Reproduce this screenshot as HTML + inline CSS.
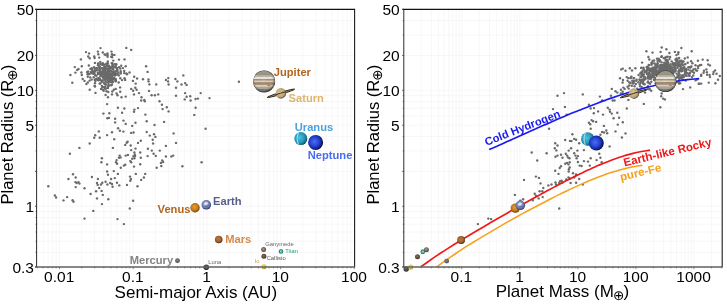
<!DOCTYPE html>
<html><head><meta charset="utf-8"><title>Planet radius plots</title><style>html,body{margin:0;padding:0;background:#fff}svg{display:block}</style></head><body>
<svg width="727" height="306" viewBox="0 0 727 306" font-family="'Liberation Sans', Arial, sans-serif">
<rect width="727" height="306" fill="#fff"/>
<path d="M43.15 9.3V266.9M48.08 9.3V266.9M52.36 9.3V266.9M56.13 9.3V266.9M59.50 9.3V266.9M81.69 9.3V266.9M94.66 9.3V266.9M103.87 9.3V266.9M111.01 9.3V266.9M116.85 9.3V266.9M121.78 9.3V266.9M126.06 9.3V266.9M129.83 9.3V266.9M133.20 9.3V266.9M155.39 9.3V266.9M168.36 9.3V266.9M177.57 9.3V266.9M184.71 9.3V266.9M190.55 9.3V266.9M195.48 9.3V266.9M199.76 9.3V266.9M203.53 9.3V266.9M206.90 9.3V266.9M229.09 9.3V266.9M242.06 9.3V266.9M251.27 9.3V266.9M258.41 9.3V266.9M264.25 9.3V266.9M269.18 9.3V266.9M273.46 9.3V266.9M277.23 9.3V266.9M280.60 9.3V266.9M302.79 9.3V266.9M315.76 9.3V266.9M324.97 9.3V266.9M332.11 9.3V266.9M337.95 9.3V266.9M342.88 9.3V266.9M347.16 9.3V266.9M350.93 9.3V266.9M36.6 252.41H354.6M36.6 241.18H354.6M36.6 232.00H354.6M36.6 224.24H354.6M36.6 217.51H354.6M36.6 211.58H354.6M36.6 206.28H354.6M36.6 171.38H354.6M36.6 150.96H354.6M36.6 136.48H354.6M36.6 125.24H354.6M36.6 116.06H354.6M36.6 108.30H354.6M36.6 101.57H354.6M36.6 95.64H354.6M36.6 90.34H354.6M36.6 55.44H354.6M36.6 35.02H354.6M36.6 20.54H354.6" stroke="#f5f5f5" stroke-width="0.8" fill="none"/>
<path d="M421.17 9.3V266.9M431.40 9.3V266.9M438.65 9.3V266.9M444.28 9.3V266.9M448.87 9.3V266.9M452.76 9.3V266.9M456.12 9.3V266.9M459.09 9.3V266.9M461.75 9.3V266.9M479.22 9.3V266.9M489.45 9.3V266.9M496.70 9.3V266.9M502.33 9.3V266.9M506.92 9.3V266.9M510.81 9.3V266.9M514.17 9.3V266.9M517.14 9.3V266.9M519.80 9.3V266.9M537.27 9.3V266.9M547.50 9.3V266.9M554.75 9.3V266.9M560.38 9.3V266.9M564.97 9.3V266.9M568.86 9.3V266.9M572.22 9.3V266.9M575.19 9.3V266.9M577.85 9.3V266.9M595.32 9.3V266.9M605.55 9.3V266.9M612.80 9.3V266.9M618.43 9.3V266.9M623.02 9.3V266.9M626.91 9.3V266.9M630.27 9.3V266.9M633.24 9.3V266.9M635.90 9.3V266.9M653.37 9.3V266.9M663.60 9.3V266.9M670.85 9.3V266.9M676.48 9.3V266.9M681.07 9.3V266.9M684.96 9.3V266.9M688.32 9.3V266.9M691.29 9.3V266.9M693.95 9.3V266.9M711.42 9.3V266.9M403.8 252.41H722.2M403.8 241.18H722.2M403.8 232.00H722.2M403.8 224.24H722.2M403.8 217.51H722.2M403.8 211.58H722.2M403.8 206.28H722.2M403.8 171.38H722.2M403.8 150.96H722.2M403.8 136.48H722.2M403.8 125.24H722.2M403.8 116.06H722.2M403.8 108.30H722.2M403.8 101.57H722.2M403.8 95.64H722.2M403.8 90.34H722.2M403.8 55.44H722.2M403.8 35.02H722.2M403.8 20.54H722.2" stroke="#f5f5f5" stroke-width="0.8" fill="none"/>
<g fill="#6a6a6a"><circle cx="100.5" cy="48.1" r="1.2"/><circle cx="126.3" cy="47.9" r="1.2"/><circle cx="131.2" cy="49.9" r="1.2"/><circle cx="86.0" cy="52.1" r="1.2"/><circle cx="89.1" cy="53.4" r="1.2"/><circle cx="97.9" cy="51.6" r="1.2"/><circle cx="98.3" cy="54.3" r="1.2"/><circle cx="102.8" cy="52.5" r="1.2"/><circle cx="107.4" cy="53.4" r="1.2"/><circle cx="111.5" cy="51.6" r="1.2"/><circle cx="112.0" cy="54.3" r="1.2"/><circle cx="114.4" cy="54.9" r="1.2"/><circle cx="88.2" cy="56.5" r="1.2"/><circle cx="89.7" cy="58.3" r="1.2"/><circle cx="94.2" cy="56.5" r="1.2"/><circle cx="94.6" cy="58.0" r="1.2"/><circle cx="99.2" cy="57.6" r="1.2"/><circle cx="80.9" cy="59.4" r="1.2"/><circle cx="124.5" cy="59.4" r="1.2"/><circle cx="74.8" cy="67.1" r="1.2"/><circle cx="78.5" cy="69.0" r="1.2"/><circle cx="77.2" cy="69.9" r="1.2"/><circle cx="75.4" cy="72.6" r="1.2"/><circle cx="70.4" cy="75.0" r="1.2"/><circle cx="81.8" cy="66.2" r="1.2"/><circle cx="81.8" cy="75.0" r="1.2"/><circle cx="72.3" cy="82.7" r="1.2"/><circle cx="82.7" cy="79.0" r="1.2"/><circle cx="84.5" cy="80.9" r="1.2"/><circle cx="86.4" cy="84.0" r="1.2"/><circle cx="89.7" cy="89.7" r="1.2"/><circle cx="125.7" cy="66.2" r="1.2"/><circle cx="123.0" cy="68.1" r="1.2"/><circle cx="121.2" cy="65.7" r="1.2"/><circle cx="95.5" cy="92.9" r="1.2"/><circle cx="101.0" cy="88.9" r="1.2"/><circle cx="102.8" cy="89.8" r="1.2"/><circle cx="106.5" cy="91.3" r="1.2"/><circle cx="108.3" cy="92.0" r="1.2"/><circle cx="105.6" cy="95.0" r="1.2"/><circle cx="108.0" cy="97.2" r="1.2"/><circle cx="112.0" cy="94.4" r="1.2"/><circle cx="113.8" cy="89.8" r="1.2"/><circle cx="115.7" cy="88.9" r="1.2"/><circle cx="116.6" cy="93.5" r="1.2"/><circle cx="117.5" cy="95.3" r="1.2"/><circle cx="120.2" cy="91.7" r="1.2"/><circle cx="121.5" cy="97.2" r="1.2"/><circle cx="125.7" cy="96.6" r="1.2"/><circle cx="133.1" cy="90.7" r="1.2"/><circle cx="134.0" cy="94.4" r="1.2"/><circle cx="131.2" cy="88.9" r="1.2"/><circle cx="107.1" cy="104.1" r="1.2"/><circle cx="117.9" cy="107.8" r="1.2"/><circle cx="124.3" cy="108.5" r="1.2"/><circle cx="122.1" cy="112.7" r="1.2"/><circle cx="134.4" cy="109.6" r="1.2"/><circle cx="134.0" cy="111.8" r="1.2"/><circle cx="103.4" cy="113.6" r="1.2"/><circle cx="109.3" cy="113.3" r="1.2"/><circle cx="107.4" cy="118.2" r="1.2"/><circle cx="108.9" cy="117.9" r="1.2"/><circle cx="115.1" cy="118.8" r="1.2"/><circle cx="115.1" cy="122.4" r="1.2"/><circle cx="123.5" cy="120.6" r="1.2"/><circle cx="125.7" cy="123.9" r="1.2"/><circle cx="135.5" cy="122.8" r="1.2"/><circle cx="132.2" cy="125.9" r="1.2"/><circle cx="118.1" cy="128.3" r="1.2"/><circle cx="119.9" cy="130.7" r="1.2"/><circle cx="123.4" cy="131.6" r="1.2"/><circle cx="98.8" cy="131.4" r="1.2"/><circle cx="112.0" cy="132.3" r="1.2"/><circle cx="131.2" cy="132.9" r="1.2"/><circle cx="133.6" cy="132.5" r="1.2"/><circle cx="95.2" cy="135.3" r="1.2"/><circle cx="94.2" cy="137.8" r="1.2"/><circle cx="99.7" cy="137.8" r="1.2"/><circle cx="107.1" cy="135.1" r="1.2"/><circle cx="114.2" cy="139.3" r="1.2"/><circle cx="127.6" cy="141.7" r="1.2"/><circle cx="89.7" cy="143.5" r="1.2"/><circle cx="79.4" cy="147.9" r="1.2"/><circle cx="69.9" cy="153.7" r="1.2"/><circle cx="112.9" cy="147.9" r="1.2"/><circle cx="126.7" cy="142.7" r="1.2"/><circle cx="125.2" cy="144.9" r="1.2"/><circle cx="130.7" cy="145.5" r="1.2"/><circle cx="131.2" cy="150.1" r="1.2"/><circle cx="135.5" cy="148.6" r="1.2"/><circle cx="134.4" cy="152.5" r="1.2"/><circle cx="101.9" cy="158.3" r="1.2"/><circle cx="101.4" cy="162.3" r="1.2"/><circle cx="107.1" cy="164.4" r="1.2"/><circle cx="119.7" cy="155.6" r="1.2"/><circle cx="120.6" cy="157.4" r="1.2"/><circle cx="119.0" cy="157.8" r="1.2"/><circle cx="116.6" cy="160.1" r="1.2"/><circle cx="116.0" cy="162.3" r="1.2"/><circle cx="117.1" cy="163.8" r="1.2"/><circle cx="125.7" cy="155.6" r="1.2"/><circle cx="127.9" cy="155.0" r="1.2"/><circle cx="125.2" cy="164.7" r="1.2"/><circle cx="123.9" cy="165.6" r="1.2"/><circle cx="120.8" cy="167.8" r="1.2"/><circle cx="130.3" cy="161.1" r="1.2"/><circle cx="131.2" cy="162.3" r="1.2"/><circle cx="132.2" cy="158.7" r="1.2"/><circle cx="134.4" cy="158.3" r="1.2"/><circle cx="133.4" cy="156.1" r="1.2"/><circle cx="134.9" cy="154.7" r="1.2"/><circle cx="134.0" cy="166.6" r="1.2"/><circle cx="107.1" cy="171.5" r="1.2"/><circle cx="108.0" cy="174.8" r="1.2"/><circle cx="113.8" cy="171.1" r="1.2"/><circle cx="117.9" cy="173.9" r="1.2"/><circle cx="135.8" cy="173.9" r="1.2"/><circle cx="73.0" cy="174.2" r="1.2"/><circle cx="75.7" cy="177.5" r="1.2"/><circle cx="68.4" cy="179.0" r="1.2"/><circle cx="91.9" cy="177.0" r="1.2"/><circle cx="97.9" cy="179.0" r="1.2"/><circle cx="105.6" cy="181.8" r="1.2"/><circle cx="111.1" cy="179.0" r="1.2"/><circle cx="114.8" cy="178.1" r="1.2"/><circle cx="130.0" cy="176.6" r="1.2"/><circle cx="130.9" cy="179.0" r="1.2"/><circle cx="130.3" cy="180.7" r="1.2"/><circle cx="75.4" cy="182.1" r="1.2"/><circle cx="76.7" cy="183.0" r="1.2"/><circle cx="78.5" cy="182.1" r="1.2"/><circle cx="79.4" cy="183.6" r="1.2"/><circle cx="75.7" cy="187.1" r="1.2"/><circle cx="48.3" cy="186.2" r="1.2"/><circle cx="84.5" cy="188.2" r="1.2"/><circle cx="97.0" cy="183.0" r="1.2"/><circle cx="97.7" cy="184.9" r="1.2"/><circle cx="101.0" cy="184.5" r="1.2"/><circle cx="99.2" cy="188.0" r="1.2"/><circle cx="102.3" cy="182.7" r="1.2"/><circle cx="107.4" cy="184.5" r="1.2"/><circle cx="110.2" cy="183.0" r="1.2"/><circle cx="112.0" cy="184.0" r="1.2"/><circle cx="112.6" cy="186.7" r="1.2"/><circle cx="117.0" cy="182.7" r="1.2"/><circle cx="119.3" cy="185.4" r="1.2"/><circle cx="127.0" cy="184.9" r="1.2"/><circle cx="96.1" cy="191.3" r="1.2"/><circle cx="101.6" cy="190.9" r="1.2"/><circle cx="90.6" cy="194.0" r="1.2"/><circle cx="102.8" cy="194.9" r="1.2"/><circle cx="54.9" cy="195.5" r="1.2"/><circle cx="56.1" cy="197.5" r="1.2"/><circle cx="63.5" cy="200.4" r="1.2"/><circle cx="67.1" cy="197.1" r="1.2"/><circle cx="72.6" cy="200.2" r="1.2"/><circle cx="73.5" cy="201.7" r="1.2"/><circle cx="97.0" cy="198.4" r="1.2"/><circle cx="101.9" cy="204.1" r="1.2"/><circle cx="108.3" cy="199.3" r="1.2"/><circle cx="93.3" cy="210.9" r="1.2"/><circle cx="84.5" cy="218.6" r="1.2"/><circle cx="117.5" cy="219.1" r="1.2"/><circle cx="123.9" cy="224.1" r="1.2"/><circle cx="129.8" cy="208.5" r="1.2"/><circle cx="133.1" cy="200.8" r="1.2"/><circle cx="146.1" cy="66.2" r="1.2"/><circle cx="147.6" cy="71.9" r="1.2"/><circle cx="134.2" cy="76.7" r="1.2"/><circle cx="137.1" cy="78.5" r="1.2"/><circle cx="132.9" cy="80.9" r="1.2"/><circle cx="135.7" cy="83.6" r="1.2"/><circle cx="143.0" cy="79.2" r="1.2"/><circle cx="148.5" cy="79.4" r="1.2"/><circle cx="148.5" cy="81.4" r="1.2"/><circle cx="149.4" cy="84.4" r="1.2"/><circle cx="156.2" cy="84.4" r="1.2"/><circle cx="165.9" cy="80.0" r="1.2"/><circle cx="168.3" cy="78.1" r="1.2"/><circle cx="168.1" cy="81.4" r="1.2"/><circle cx="168.6" cy="84.5" r="1.2"/><circle cx="175.4" cy="79.0" r="1.2"/><circle cx="177.4" cy="81.4" r="1.2"/><circle cx="176.0" cy="87.8" r="1.2"/><circle cx="181.5" cy="84.5" r="1.2"/><circle cx="183.3" cy="75.4" r="1.2"/><circle cx="185.1" cy="83.1" r="1.2"/><circle cx="186.6" cy="84.9" r="1.2"/><circle cx="135.3" cy="87.8" r="1.2"/><circle cx="136.6" cy="89.7" r="1.2"/><circle cx="149.0" cy="90.9" r="1.2"/><circle cx="139.0" cy="93.1" r="1.2"/><circle cx="141.5" cy="97.2" r="1.2"/><circle cx="141.2" cy="100.5" r="1.2"/><circle cx="144.3" cy="99.9" r="1.2"/><circle cx="144.8" cy="101.2" r="1.2"/><circle cx="151.6" cy="95.3" r="1.2"/><circle cx="154.9" cy="95.3" r="1.2"/><circle cx="158.2" cy="94.4" r="1.2"/><circle cx="159.5" cy="101.2" r="1.2"/><circle cx="161.9" cy="104.8" r="1.2"/><circle cx="162.6" cy="109.1" r="1.2"/><circle cx="166.8" cy="107.2" r="1.2"/><circle cx="168.6" cy="111.4" r="1.2"/><circle cx="176.0" cy="95.7" r="1.2"/><circle cx="185.1" cy="93.1" r="1.2"/><circle cx="186.6" cy="96.8" r="1.2"/><circle cx="184.7" cy="99.4" r="1.2"/><circle cx="190.2" cy="96.2" r="1.2"/><circle cx="190.6" cy="100.5" r="1.2"/><circle cx="195.6" cy="99.0" r="1.2"/><circle cx="197.9" cy="98.6" r="1.2"/><circle cx="200.7" cy="93.1" r="1.2"/><circle cx="209.5" cy="98.1" r="1.2"/><circle cx="195.6" cy="107.8" r="1.2"/><circle cx="194.3" cy="114.9" r="1.2"/><circle cx="138.0" cy="108.1" r="1.2"/><circle cx="145.4" cy="114.6" r="1.2"/><circle cx="146.7" cy="121.3" r="1.2"/><circle cx="154.5" cy="125.0" r="1.2"/><circle cx="164.1" cy="121.9" r="1.2"/><circle cx="205.6" cy="128.8" r="1.2"/><circle cx="146.7" cy="132.0" r="1.2"/><circle cx="149.8" cy="135.6" r="1.2"/><circle cx="154.0" cy="134.2" r="1.2"/><circle cx="155.4" cy="136.9" r="1.2"/><circle cx="173.6" cy="133.4" r="1.2"/><circle cx="152.7" cy="139.8" r="1.2"/><circle cx="140.8" cy="140.7" r="1.2"/><circle cx="138.0" cy="142.9" r="1.2"/><circle cx="153.1" cy="143.5" r="1.2"/><circle cx="176.0" cy="142.9" r="1.2"/><circle cx="140.2" cy="152.5" r="1.2"/><circle cx="135.1" cy="156.1" r="1.2"/><circle cx="140.8" cy="157.8" r="1.2"/><circle cx="140.2" cy="164.2" r="1.2"/><circle cx="147.9" cy="148.8" r="1.2"/><circle cx="151.8" cy="150.6" r="1.2"/><circle cx="147.6" cy="156.1" r="1.2"/><circle cx="153.6" cy="153.7" r="1.2"/><circle cx="155.8" cy="155.9" r="1.2"/><circle cx="159.8" cy="150.6" r="1.2"/><circle cx="165.9" cy="145.9" r="1.2"/><circle cx="165.9" cy="156.5" r="1.2"/><circle cx="171.4" cy="156.5" r="1.2"/><circle cx="173.2" cy="155.6" r="1.2"/><circle cx="162.2" cy="160.5" r="1.2"/><circle cx="160.9" cy="162.9" r="1.2"/><circle cx="163.1" cy="162.0" r="1.2"/><circle cx="161.3" cy="166.0" r="1.2"/><circle cx="156.7" cy="167.8" r="1.2"/><circle cx="182.4" cy="166.2" r="1.2"/><circle cx="201.6" cy="162.3" r="1.2"/><circle cx="145.2" cy="173.9" r="1.2"/><circle cx="143.9" cy="177.5" r="1.2"/><circle cx="141.2" cy="179.9" r="1.2"/><circle cx="137.5" cy="186.3" r="1.2"/><circle cx="238.9" cy="81.7" r="1.2"/><circle cx="102.5" cy="76.4" r="1.2"/><circle cx="113.2" cy="69.5" r="1.2"/><circle cx="102.0" cy="73.0" r="1.2"/><circle cx="110.7" cy="82.1" r="1.2"/><circle cx="102.6" cy="63.4" r="1.2"/><circle cx="111.8" cy="77.2" r="1.2"/><circle cx="115.8" cy="81.2" r="1.2"/><circle cx="107.9" cy="71.4" r="1.2"/><circle cx="120.7" cy="71.2" r="1.2"/><circle cx="104.6" cy="64.6" r="1.2"/><circle cx="108.9" cy="74.6" r="1.2"/><circle cx="106.7" cy="73.0" r="1.2"/><circle cx="109.7" cy="78.9" r="1.2"/><circle cx="113.7" cy="75.1" r="1.2"/><circle cx="99.8" cy="79.0" r="1.2"/><circle cx="101.6" cy="72.2" r="1.2"/><circle cx="101.3" cy="73.5" r="1.2"/><circle cx="104.7" cy="75.2" r="1.2"/><circle cx="124.2" cy="73.1" r="1.2"/><circle cx="112.4" cy="63.2" r="1.2"/><circle cx="107.0" cy="78.7" r="1.2"/><circle cx="108.0" cy="76.4" r="1.2"/><circle cx="108.9" cy="65.7" r="1.2"/><circle cx="111.1" cy="67.2" r="1.2"/><circle cx="117.4" cy="69.6" r="1.2"/><circle cx="111.7" cy="73.5" r="1.2"/><circle cx="113.0" cy="68.8" r="1.2"/><circle cx="113.2" cy="72.5" r="1.2"/><circle cx="114.5" cy="78.4" r="1.2"/><circle cx="109.1" cy="67.4" r="1.2"/><circle cx="112.1" cy="77.2" r="1.2"/><circle cx="116.3" cy="70.6" r="1.2"/><circle cx="111.1" cy="77.5" r="1.2"/><circle cx="109.8" cy="75.1" r="1.2"/><circle cx="109.3" cy="68.8" r="1.2"/><circle cx="103.5" cy="70.4" r="1.2"/><circle cx="111.2" cy="85.3" r="1.2"/><circle cx="113.1" cy="81.7" r="1.2"/><circle cx="112.1" cy="78.9" r="1.2"/><circle cx="109.3" cy="79.5" r="1.2"/><circle cx="116.9" cy="70.9" r="1.2"/><circle cx="105.1" cy="88.8" r="1.2"/><circle cx="109.6" cy="81.1" r="1.2"/><circle cx="112.6" cy="64.6" r="1.2"/><circle cx="120.1" cy="87.4" r="1.2"/><circle cx="109.2" cy="79.4" r="1.2"/><circle cx="109.0" cy="66.6" r="1.2"/><circle cx="107.9" cy="76.4" r="1.2"/><circle cx="113.8" cy="79.0" r="1.2"/><circle cx="108.7" cy="84.1" r="1.2"/><circle cx="104.7" cy="79.7" r="1.2"/><circle cx="113.7" cy="71.2" r="1.2"/><circle cx="99.8" cy="66.4" r="1.2"/><circle cx="109.5" cy="77.6" r="1.2"/><circle cx="115.8" cy="65.7" r="1.2"/><circle cx="108.4" cy="78.6" r="1.2"/><circle cx="107.6" cy="55.0" r="1.2"/><circle cx="112.3" cy="91.5" r="1.2"/><circle cx="113.2" cy="66.3" r="1.2"/><circle cx="106.4" cy="75.2" r="1.2"/><circle cx="120.3" cy="78.3" r="1.2"/><circle cx="108.9" cy="85.6" r="1.2"/><circle cx="108.0" cy="88.0" r="1.2"/><circle cx="105.1" cy="69.8" r="1.2"/><circle cx="111.9" cy="84.6" r="1.2"/><circle cx="111.5" cy="75.9" r="1.2"/><circle cx="99.7" cy="67.9" r="1.2"/><circle cx="105.5" cy="69.3" r="1.2"/><circle cx="111.2" cy="70.9" r="1.2"/><circle cx="112.2" cy="74.1" r="1.2"/><circle cx="106.8" cy="74.4" r="1.2"/><circle cx="110.5" cy="80.2" r="1.2"/><circle cx="106.1" cy="71.7" r="1.2"/><circle cx="101.9" cy="86.0" r="1.2"/><circle cx="115.4" cy="72.1" r="1.2"/><circle cx="106.1" cy="63.9" r="1.2"/><circle cx="109.2" cy="75.1" r="1.2"/><circle cx="118.9" cy="75.4" r="1.2"/><circle cx="104.7" cy="54.4" r="1.2"/><circle cx="115.2" cy="75.0" r="1.2"/><circle cx="100.7" cy="74.9" r="1.2"/><circle cx="113.8" cy="78.0" r="1.2"/><circle cx="107.6" cy="56.8" r="1.2"/><circle cx="107.8" cy="61.4" r="1.2"/><circle cx="111.3" cy="56.8" r="1.2"/><circle cx="104.0" cy="83.0" r="1.2"/><circle cx="116.3" cy="64.3" r="1.2"/><circle cx="101.0" cy="80.4" r="1.2"/><circle cx="112.5" cy="65.8" r="1.2"/><circle cx="105.1" cy="68.1" r="1.2"/><circle cx="102.7" cy="68.2" r="1.2"/><circle cx="114.4" cy="78.9" r="1.2"/><circle cx="118.3" cy="72.8" r="1.2"/><circle cx="107.8" cy="65.8" r="1.2"/><circle cx="107.8" cy="63.3" r="1.2"/><circle cx="99.9" cy="78.9" r="1.2"/><circle cx="115.3" cy="80.0" r="1.2"/><circle cx="114.8" cy="75.5" r="1.2"/><circle cx="105.0" cy="74.2" r="1.2"/><circle cx="106.6" cy="64.8" r="1.2"/><circle cx="100.3" cy="61.9" r="1.2"/><circle cx="108.4" cy="74.7" r="1.2"/><circle cx="106.1" cy="84.6" r="1.2"/><circle cx="109.3" cy="78.0" r="1.2"/><circle cx="114.2" cy="67.1" r="1.2"/><circle cx="98.9" cy="79.4" r="1.2"/><circle cx="105.1" cy="83.7" r="1.2"/><circle cx="110.0" cy="81.4" r="1.2"/><circle cx="112.1" cy="57.3" r="1.2"/><circle cx="111.9" cy="68.2" r="1.2"/><circle cx="104.8" cy="70.1" r="1.2"/><circle cx="112.1" cy="80.4" r="1.2"/><circle cx="113.3" cy="60.6" r="1.2"/><circle cx="105.6" cy="55.0" r="1.2"/><circle cx="107.9" cy="78.2" r="1.2"/><circle cx="104.7" cy="75.4" r="1.2"/><circle cx="109.5" cy="81.4" r="1.2"/><circle cx="104.5" cy="67.0" r="1.2"/><circle cx="104.7" cy="87.2" r="1.2"/><circle cx="113.6" cy="72.5" r="1.2"/><circle cx="109.5" cy="74.4" r="1.2"/><circle cx="109.4" cy="71.9" r="1.2"/><circle cx="106.8" cy="63.7" r="1.2"/><circle cx="105.3" cy="86.4" r="1.2"/><circle cx="111.0" cy="74.0" r="1.2"/><circle cx="107.4" cy="74.0" r="1.2"/><circle cx="110.1" cy="68.5" r="1.2"/><circle cx="109.3" cy="75.4" r="1.2"/><circle cx="104.8" cy="67.3" r="1.2"/><circle cx="103.6" cy="65.2" r="1.2"/><circle cx="112.7" cy="55.1" r="1.2"/><circle cx="107.1" cy="68.7" r="1.2"/><circle cx="105.4" cy="74.3" r="1.2"/><circle cx="113.8" cy="74.1" r="1.2"/><circle cx="107.7" cy="68.7" r="1.2"/><circle cx="107.8" cy="80.6" r="1.2"/><circle cx="106.5" cy="64.6" r="1.2"/><circle cx="102.3" cy="64.9" r="1.2"/><circle cx="101.7" cy="82.1" r="1.2"/><circle cx="106.9" cy="73.1" r="1.2"/><circle cx="117.4" cy="70.7" r="1.2"/><circle cx="110.7" cy="79.1" r="1.2"/><circle cx="88.8" cy="65.5" r="1.2"/><circle cx="94.7" cy="79.8" r="1.2"/><circle cx="115.8" cy="67.4" r="1.2"/><circle cx="113.5" cy="72.3" r="1.2"/><circle cx="99.8" cy="71.3" r="1.2"/><circle cx="100.4" cy="64.0" r="1.2"/><circle cx="94.0" cy="67.3" r="1.2"/><circle cx="108.2" cy="86.6" r="1.2"/><circle cx="129.5" cy="72.5" r="1.2"/><circle cx="87.1" cy="72.1" r="1.2"/><circle cx="94.6" cy="86.0" r="1.2"/><circle cx="108.9" cy="70.3" r="1.2"/><circle cx="112.4" cy="77.6" r="1.2"/><circle cx="88.1" cy="71.4" r="1.2"/><circle cx="101.2" cy="74.6" r="1.2"/><circle cx="104.8" cy="72.5" r="1.2"/><circle cx="105.3" cy="71.1" r="1.2"/><circle cx="95.0" cy="83.3" r="1.2"/><circle cx="106.9" cy="77.0" r="1.2"/><circle cx="88.3" cy="73.5" r="1.2"/><circle cx="111.3" cy="67.0" r="1.2"/><circle cx="113.9" cy="72.2" r="1.2"/><circle cx="107.3" cy="73.7" r="1.2"/><circle cx="105.6" cy="81.5" r="1.2"/><circle cx="99.7" cy="83.6" r="1.2"/><circle cx="96.1" cy="69.1" r="1.2"/><circle cx="110.3" cy="68.3" r="1.2"/><circle cx="100.0" cy="79.8" r="1.2"/><circle cx="115.0" cy="64.2" r="1.2"/><circle cx="108.3" cy="85.4" r="1.2"/><circle cx="114.9" cy="73.1" r="1.2"/><circle cx="97.8" cy="72.8" r="1.2"/><circle cx="92.5" cy="73.0" r="1.2"/><circle cx="101.7" cy="73.7" r="1.2"/><circle cx="114.7" cy="73.2" r="1.2"/><circle cx="89.7" cy="80.6" r="1.2"/><circle cx="93.3" cy="71.9" r="1.2"/><circle cx="102.2" cy="72.5" r="1.2"/><circle cx="94.0" cy="73.1" r="1.2"/><circle cx="124.2" cy="71.0" r="1.2"/><circle cx="102.2" cy="81.0" r="1.2"/><circle cx="110.6" cy="78.9" r="1.2"/><circle cx="111.7" cy="63.1" r="1.2"/><circle cx="95.3" cy="75.2" r="1.2"/><circle cx="108.2" cy="82.0" r="1.2"/><circle cx="108.0" cy="73.1" r="1.2"/><circle cx="103.9" cy="73.3" r="1.2"/><circle cx="105.8" cy="78.4" r="1.2"/><circle cx="100.3" cy="69.8" r="1.2"/><circle cx="95.4" cy="80.9" r="1.2"/><circle cx="115.7" cy="80.3" r="1.2"/><circle cx="111.6" cy="79.3" r="1.2"/><circle cx="103.5" cy="78.3" r="1.2"/><circle cx="93.5" cy="73.3" r="1.2"/><circle cx="96.5" cy="78.7" r="1.2"/><circle cx="98.0" cy="73.9" r="1.2"/><circle cx="107.3" cy="82.4" r="1.2"/><circle cx="96.0" cy="69.1" r="1.2"/><circle cx="111.3" cy="68.1" r="1.2"/><circle cx="107.8" cy="71.2" r="1.2"/><circle cx="102.5" cy="63.9" r="1.2"/><circle cx="110.3" cy="71.6" r="1.2"/><circle cx="95.0" cy="86.5" r="1.2"/><circle cx="107.4" cy="72.5" r="1.2"/><circle cx="104.5" cy="83.8" r="1.2"/><circle cx="103.2" cy="77.1" r="1.2"/><circle cx="108.4" cy="69.2" r="1.2"/><circle cx="104.7" cy="71.6" r="1.2"/><circle cx="91.7" cy="79.6" r="1.2"/><circle cx="109.8" cy="74.9" r="1.2"/><circle cx="94.9" cy="62.9" r="1.2"/><circle cx="108.1" cy="73.9" r="1.2"/><circle cx="87.5" cy="74.2" r="1.2"/><circle cx="89.0" cy="74.3" r="1.2"/><circle cx="104.9" cy="76.6" r="1.2"/><circle cx="105.6" cy="75.5" r="1.2"/><circle cx="92.7" cy="72.3" r="1.2"/><circle cx="98.6" cy="73.1" r="1.2"/><circle cx="106.1" cy="78.1" r="1.2"/><circle cx="119.0" cy="59.6" r="1.2"/><circle cx="107.3" cy="73.3" r="1.2"/><circle cx="125.1" cy="79.9" r="1.2"/><circle cx="87.8" cy="76.8" r="1.2"/><circle cx="98.6" cy="80.3" r="1.2"/><circle cx="93.5" cy="73.9" r="1.2"/><circle cx="102.3" cy="73.9" r="1.2"/><circle cx="98.0" cy="63.8" r="1.2"/><circle cx="107.9" cy="80.3" r="1.2"/><circle cx="102.9" cy="68.6" r="1.2"/><circle cx="105.4" cy="77.8" r="1.2"/><circle cx="101.8" cy="74.4" r="1.2"/><circle cx="116.9" cy="68.0" r="1.2"/><circle cx="98.2" cy="63.4" r="1.2"/><circle cx="96.9" cy="70.2" r="1.2"/><circle cx="94.4" cy="70.5" r="1.2"/><circle cx="120.6" cy="73.4" r="1.2"/><circle cx="102.4" cy="87.2" r="1.2"/><circle cx="102.9" cy="64.4" r="1.2"/><circle cx="107.3" cy="69.1" r="1.2"/><circle cx="119.1" cy="67.3" r="1.2"/><circle cx="98.0" cy="65.2" r="1.2"/><circle cx="104.4" cy="68.6" r="1.2"/><circle cx="102.9" cy="72.3" r="1.2"/><circle cx="97.7" cy="80.0" r="1.2"/><circle cx="112.4" cy="74.9" r="1.2"/><circle cx="94.9" cy="68.3" r="1.2"/><circle cx="106.1" cy="88.4" r="1.2"/><circle cx="99.2" cy="69.9" r="1.2"/><circle cx="96.9" cy="68.1" r="1.2"/><circle cx="94.3" cy="73.3" r="1.2"/><circle cx="117.1" cy="74.5" r="1.2"/><circle cx="98.6" cy="65.1" r="1.2"/><circle cx="105.5" cy="74.3" r="1.2"/><circle cx="91.8" cy="68.2" r="1.2"/><circle cx="103.1" cy="80.4" r="1.2"/><circle cx="109.5" cy="75.7" r="1.2"/><circle cx="100.4" cy="76.4" r="1.2"/><circle cx="103.4" cy="87.1" r="1.2"/><circle cx="92.7" cy="72.4" r="1.2"/><circle cx="115.5" cy="73.0" r="1.2"/><circle cx="117.0" cy="74.2" r="1.2"/><circle cx="104.9" cy="72.4" r="1.2"/><circle cx="90.4" cy="68.9" r="1.2"/><circle cx="124.5" cy="78.2" r="1.2"/><circle cx="109.3" cy="80.0" r="1.2"/><circle cx="108.9" cy="80.4" r="1.2"/><circle cx="101.0" cy="73.2" r="1.2"/><circle cx="112.8" cy="72.5" r="1.2"/><circle cx="90.9" cy="73.2" r="1.2"/><circle cx="98.3" cy="78.1" r="1.2"/><circle cx="96.7" cy="68.3" r="1.2"/><circle cx="100.3" cy="83.5" r="1.2"/><circle cx="103.0" cy="75.4" r="1.2"/><circle cx="103.6" cy="76.2" r="1.2"/><circle cx="112.3" cy="82.6" r="1.2"/><circle cx="87.9" cy="82.4" r="1.2"/><circle cx="103.5" cy="72.6" r="1.2"/><circle cx="126.3" cy="73.5" r="1.2"/><circle cx="122.0" cy="80.1" r="1.2"/><circle cx="93.7" cy="77.3" r="1.2"/><circle cx="110.5" cy="73.8" r="1.2"/><circle cx="81.4" cy="72.5" r="1.2"/><circle cx="101.7" cy="68.1" r="1.2"/><circle cx="120.8" cy="73.1" r="1.2"/><circle cx="99.8" cy="72.8" r="1.2"/><circle cx="96.1" cy="70.0" r="1.2"/><circle cx="104.4" cy="76.3" r="1.2"/><circle cx="98.7" cy="74.0" r="1.2"/><circle cx="90.3" cy="77.5" r="1.2"/><circle cx="96.4" cy="75.7" r="1.2"/><circle cx="94.9" cy="71.5" r="1.2"/><circle cx="105.5" cy="67.5" r="1.2"/><circle cx="127.0" cy="74.3" r="1.2"/><circle cx="102.8" cy="70.2" r="1.2"/><circle cx="118.7" cy="82.5" r="1.2"/><circle cx="106.3" cy="66.6" r="1.2"/><circle cx="98.7" cy="78.1" r="1.2"/><circle cx="98.6" cy="67.6" r="1.2"/><circle cx="92.2" cy="70.0" r="1.2"/><circle cx="103.6" cy="70.7" r="1.2"/><circle cx="103.7" cy="90.7" r="1.2"/><circle cx="120.3" cy="68.5" r="1.2"/><circle cx="106.8" cy="75.0" r="1.2"/><circle cx="102.2" cy="80.6" r="1.2"/><circle cx="100.3" cy="72.6" r="1.2"/><circle cx="99.9" cy="73.9" r="1.2"/><circle cx="115.7" cy="79.0" r="1.2"/><circle cx="90.8" cy="71.9" r="1.2"/><circle cx="95.9" cy="79.2" r="1.2"/><circle cx="105.6" cy="79.7" r="1.2"/><circle cx="102.9" cy="63.4" r="1.2"/></g>
<g fill="#6a6a6a"><circle cx="531.7" cy="152.5" r="1.2"/><circle cx="546.6" cy="153.2" r="1.2"/><circle cx="537.2" cy="160.5" r="1.2"/><circle cx="555.2" cy="143.3" r="1.2"/><circle cx="557.5" cy="145.5" r="1.2"/><circle cx="554.8" cy="148.2" r="1.2"/><circle cx="556.4" cy="150.4" r="1.2"/><circle cx="557.5" cy="155.6" r="1.2"/><circle cx="555.5" cy="156.8" r="1.2"/><circle cx="561.0" cy="154.7" r="1.2"/><circle cx="562.5" cy="157.8" r="1.2"/><circle cx="565.8" cy="153.7" r="1.2"/><circle cx="567.1" cy="155.6" r="1.2"/><circle cx="568.0" cy="157.4" r="1.2"/><circle cx="569.5" cy="158.3" r="1.2"/><circle cx="565.2" cy="163.8" r="1.2"/><circle cx="567.1" cy="162.9" r="1.2"/><circle cx="568.5" cy="164.4" r="1.2"/><circle cx="561.0" cy="166.2" r="1.2"/><circle cx="559.7" cy="168.0" r="1.2"/><circle cx="555.2" cy="170.8" r="1.2"/><circle cx="558.5" cy="173.9" r="1.2"/><circle cx="568.9" cy="169.3" r="1.2"/><circle cx="524.0" cy="179.9" r="1.2"/><circle cx="535.9" cy="176.6" r="1.2"/><circle cx="539.0" cy="177.9" r="1.2"/><circle cx="540.5" cy="183.4" r="1.2"/><circle cx="543.3" cy="188.0" r="1.2"/><circle cx="548.4" cy="185.4" r="1.2"/><circle cx="551.5" cy="184.5" r="1.2"/><circle cx="555.5" cy="182.5" r="1.2"/><circle cx="556.1" cy="184.5" r="1.2"/><circle cx="559.2" cy="183.0" r="1.2"/><circle cx="560.1" cy="181.2" r="1.2"/><circle cx="561.6" cy="180.7" r="1.2"/><circle cx="562.5" cy="182.5" r="1.2"/><circle cx="566.2" cy="179.4" r="1.2"/><circle cx="568.5" cy="177.5" r="1.2"/><circle cx="569.8" cy="178.5" r="1.2"/><circle cx="539.6" cy="191.3" r="1.2"/><circle cx="542.3" cy="191.3" r="1.2"/><circle cx="534.7" cy="193.7" r="1.2"/><circle cx="514.9" cy="194.9" r="1.2"/><circle cx="565.2" cy="140.0" r="1.2"/><circle cx="523.1" cy="199.3" r="1.2"/><circle cx="520.4" cy="200.6" r="1.2"/><circle cx="535.9" cy="195.7" r="1.2"/><circle cx="538.7" cy="198.4" r="1.2"/><circle cx="542.7" cy="197.1" r="1.2"/><circle cx="532.8" cy="200.2" r="1.2"/><circle cx="559.2" cy="208.5" r="1.2"/><circle cx="488.3" cy="218.6" r="1.2"/><circle cx="491.1" cy="219.1" r="1.2"/><circle cx="477.9" cy="224.1" r="1.2"/><circle cx="609.6" cy="146.4" r="1.2"/><circle cx="570.0" cy="140.9" r="1.2"/><circle cx="579.2" cy="143.3" r="1.2"/><circle cx="571.1" cy="148.2" r="1.2"/><circle cx="568.7" cy="150.6" r="1.2"/><circle cx="577.4" cy="150.6" r="1.2"/><circle cx="583.9" cy="150.1" r="1.2"/><circle cx="574.2" cy="153.2" r="1.2"/><circle cx="575.5" cy="155.6" r="1.2"/><circle cx="577.9" cy="156.1" r="1.2"/><circle cx="576.6" cy="158.3" r="1.2"/><circle cx="590.7" cy="158.3" r="1.2"/><circle cx="599.3" cy="153.7" r="1.2"/><circle cx="600.4" cy="157.8" r="1.2"/><circle cx="596.6" cy="160.1" r="1.2"/><circle cx="583.9" cy="161.1" r="1.2"/><circle cx="588.0" cy="161.6" r="1.2"/><circle cx="601.7" cy="162.3" r="1.2"/><circle cx="577.9" cy="162.0" r="1.2"/><circle cx="569.7" cy="162.3" r="1.2"/><circle cx="579.7" cy="165.6" r="1.2"/><circle cx="581.6" cy="166.0" r="1.2"/><circle cx="589.8" cy="165.6" r="1.2"/><circle cx="569.7" cy="167.5" r="1.2"/><circle cx="568.7" cy="171.5" r="1.2"/><circle cx="573.0" cy="173.3" r="1.2"/><circle cx="576.1" cy="174.4" r="1.2"/><circle cx="574.2" cy="177.5" r="1.2"/><circle cx="579.2" cy="179.0" r="1.2"/><circle cx="570.6" cy="183.0" r="1.2"/><circle cx="576.1" cy="182.7" r="1.2"/><circle cx="582.8" cy="184.5" r="1.2"/><circle cx="582.8" cy="94.4" r="1.2"/><circle cx="599.9" cy="96.6" r="1.2"/><circle cx="610.9" cy="95.7" r="1.2"/><circle cx="615.5" cy="91.3" r="1.2"/><circle cx="617.3" cy="92.6" r="1.2"/><circle cx="611.8" cy="88.9" r="1.2"/><circle cx="620.9" cy="89.8" r="1.2"/><circle cx="624.6" cy="88.9" r="1.2"/><circle cx="620.9" cy="93.5" r="1.2"/><circle cx="614.5" cy="100.5" r="1.2"/><circle cx="612.7" cy="100.5" r="1.2"/><circle cx="602.1" cy="100.5" r="1.2"/><circle cx="588.9" cy="104.8" r="1.2"/><circle cx="590.7" cy="108.5" r="1.2"/><circle cx="594.0" cy="108.1" r="1.2"/><circle cx="593.8" cy="113.3" r="1.2"/><circle cx="598.1" cy="111.4" r="1.2"/><circle cx="603.0" cy="114.6" r="1.2"/><circle cx="607.8" cy="107.8" r="1.2"/><circle cx="609.6" cy="109.6" r="1.2"/><circle cx="610.0" cy="111.8" r="1.2"/><circle cx="611.8" cy="113.6" r="1.2"/><circle cx="617.3" cy="112.7" r="1.2"/><circle cx="626.8" cy="108.5" r="1.2"/><circle cx="643.8" cy="103.9" r="1.2"/><circle cx="660.3" cy="107.2" r="1.2"/><circle cx="661.2" cy="96.2" r="1.2"/><circle cx="663.1" cy="98.6" r="1.2"/><circle cx="664.9" cy="99.4" r="1.2"/><circle cx="651.2" cy="90.7" r="1.2"/><circle cx="645.1" cy="92.6" r="1.2"/><circle cx="613.6" cy="118.2" r="1.2"/><circle cx="619.1" cy="117.7" r="1.2"/><circle cx="591.6" cy="120.1" r="1.2"/><circle cx="593.1" cy="121.3" r="1.2"/><circle cx="588.9" cy="122.8" r="1.2"/><circle cx="590.2" cy="124.3" r="1.2"/><circle cx="596.2" cy="121.9" r="1.2"/><circle cx="622.8" cy="122.2" r="1.2"/><circle cx="617.8" cy="124.6" r="1.2"/><circle cx="603.9" cy="125.9" r="1.2"/><circle cx="590.7" cy="128.7" r="1.2"/><circle cx="606.3" cy="130.5" r="1.2"/><circle cx="602.1" cy="132.0" r="1.2"/><circle cx="604.1" cy="132.5" r="1.2"/><circle cx="607.2" cy="133.2" r="1.2"/><circle cx="615.5" cy="131.4" r="1.2"/><circle cx="625.5" cy="133.4" r="1.2"/><circle cx="621.9" cy="137.5" r="1.2"/><circle cx="600.4" cy="134.7" r="1.2"/><circle cx="572.4" cy="134.3" r="1.2"/><circle cx="574.2" cy="138.9" r="1.2"/><circle cx="571.5" cy="141.1" r="1.2"/><circle cx="576.1" cy="139.8" r="1.2"/><circle cx="557.5" cy="95.7" r="1.2"/><circle cx="564.0" cy="93.1" r="1.2"/><circle cx="553.0" cy="109.1" r="1.2"/><circle cx="564.9" cy="106.9" r="1.2"/><circle cx="566.7" cy="114.6" r="1.2"/><circle cx="549.1" cy="128.7" r="1.2"/><circle cx="661.7" cy="47.5" r="1.2"/><circle cx="681.4" cy="48.0" r="1.2"/><circle cx="691.7" cy="51.2" r="1.2"/><circle cx="646.4" cy="51.2" r="1.2"/><circle cx="674.9" cy="51.9" r="1.2"/><circle cx="678.2" cy="54.1" r="1.2"/><circle cx="669.4" cy="53.0" r="1.2"/><circle cx="660.6" cy="51.9" r="1.2"/><circle cx="702.7" cy="59.6" r="1.2"/><circle cx="708.2" cy="64.4" r="1.2"/><circle cx="697.9" cy="60.7" r="1.2"/><circle cx="716.5" cy="73.8" r="1.2"/><circle cx="719.8" cy="76.0" r="1.2"/><circle cx="709.9" cy="77.1" r="1.2"/><circle cx="708.8" cy="82.6" r="1.2"/><circle cx="715.4" cy="83.2" r="1.2"/><circle cx="701.2" cy="83.6" r="1.2"/><circle cx="690.2" cy="87.4" r="1.2"/><circle cx="683.0" cy="89.1" r="1.2"/><circle cx="621.2" cy="69.4" r="1.2"/><circle cx="620.1" cy="78.2" r="1.2"/><circle cx="623.4" cy="87.6" r="1.2"/><circle cx="626.7" cy="77.1" r="1.2"/><circle cx="630.0" cy="82.6" r="1.2"/><circle cx="633.3" cy="83.6" r="1.2"/><circle cx="661.7" cy="93.5" r="1.2"/><circle cx="622.8" cy="68.6" r="1.2"/><circle cx="625.5" cy="70.8" r="1.2"/><circle cx="628.3" cy="78.1" r="1.2"/><circle cx="629.2" cy="85.5" r="1.2"/><circle cx="715.1" cy="70.4" r="1.2"/><circle cx="652.6" cy="67.7" r="1.2"/><circle cx="669.8" cy="72.7" r="1.2"/><circle cx="666.6" cy="76.9" r="1.2"/><circle cx="681.6" cy="75.4" r="1.2"/><circle cx="642.9" cy="74.5" r="1.2"/><circle cx="685.3" cy="74.3" r="1.2"/><circle cx="648.7" cy="64.9" r="1.2"/><circle cx="640.6" cy="82.9" r="1.2"/><circle cx="646.8" cy="70.2" r="1.2"/><circle cx="676.7" cy="73.6" r="1.2"/><circle cx="645.0" cy="71.2" r="1.2"/><circle cx="673.2" cy="73.4" r="1.2"/><circle cx="667.4" cy="65.4" r="1.2"/><circle cx="667.0" cy="70.6" r="1.2"/><circle cx="642.4" cy="71.1" r="1.2"/><circle cx="656.7" cy="74.8" r="1.2"/><circle cx="666.8" cy="61.1" r="1.2"/><circle cx="681.8" cy="77.3" r="1.2"/><circle cx="675.4" cy="65.2" r="1.2"/><circle cx="679.2" cy="65.3" r="1.2"/><circle cx="699.4" cy="83.7" r="1.2"/><circle cx="661.6" cy="70.6" r="1.2"/><circle cx="642.1" cy="62.6" r="1.2"/><circle cx="695.3" cy="68.9" r="1.2"/><circle cx="666.9" cy="63.2" r="1.2"/><circle cx="655.7" cy="74.0" r="1.2"/><circle cx="655.6" cy="71.8" r="1.2"/><circle cx="682.9" cy="68.5" r="1.2"/><circle cx="656.2" cy="70.0" r="1.2"/><circle cx="667.8" cy="64.7" r="1.2"/><circle cx="675.5" cy="65.3" r="1.2"/><circle cx="682.6" cy="62.1" r="1.2"/><circle cx="657.6" cy="64.0" r="1.2"/><circle cx="683.5" cy="61.5" r="1.2"/><circle cx="660.3" cy="76.7" r="1.2"/><circle cx="638.6" cy="75.0" r="1.2"/><circle cx="693.3" cy="75.4" r="1.2"/><circle cx="641.0" cy="72.5" r="1.2"/><circle cx="669.0" cy="68.7" r="1.2"/><circle cx="650.0" cy="71.1" r="1.2"/><circle cx="641.2" cy="77.0" r="1.2"/><circle cx="690.3" cy="70.6" r="1.2"/><circle cx="697.3" cy="79.4" r="1.2"/><circle cx="660.6" cy="66.2" r="1.2"/><circle cx="659.3" cy="71.5" r="1.2"/><circle cx="630.6" cy="83.1" r="1.2"/><circle cx="649.1" cy="69.9" r="1.2"/><circle cx="668.4" cy="67.8" r="1.2"/><circle cx="685.4" cy="64.1" r="1.2"/><circle cx="651.8" cy="63.6" r="1.2"/><circle cx="658.9" cy="76.0" r="1.2"/><circle cx="675.5" cy="68.1" r="1.2"/><circle cx="643.1" cy="79.7" r="1.2"/><circle cx="654.6" cy="69.4" r="1.2"/><circle cx="671.7" cy="72.1" r="1.2"/><circle cx="673.2" cy="63.1" r="1.2"/><circle cx="657.6" cy="71.3" r="1.2"/><circle cx="622.7" cy="91.7" r="1.2"/><circle cx="669.8" cy="65.4" r="1.2"/><circle cx="662.3" cy="68.3" r="1.2"/><circle cx="663.3" cy="76.1" r="1.2"/><circle cx="667.0" cy="67.0" r="1.2"/><circle cx="638.3" cy="82.2" r="1.2"/><circle cx="689.5" cy="75.9" r="1.2"/><circle cx="698.7" cy="83.8" r="1.2"/><circle cx="668.9" cy="70.7" r="1.2"/><circle cx="692.0" cy="77.1" r="1.2"/><circle cx="659.7" cy="61.6" r="1.2"/><circle cx="681.2" cy="61.5" r="1.2"/><circle cx="661.0" cy="73.2" r="1.2"/><circle cx="669.5" cy="65.9" r="1.2"/><circle cx="656.6" cy="79.3" r="1.2"/><circle cx="672.8" cy="63.9" r="1.2"/><circle cx="651.5" cy="62.8" r="1.2"/><circle cx="648.0" cy="86.2" r="1.2"/><circle cx="679.5" cy="69.4" r="1.2"/><circle cx="667.7" cy="56.8" r="1.2"/><circle cx="647.5" cy="78.4" r="1.2"/><circle cx="650.9" cy="71.1" r="1.2"/><circle cx="674.6" cy="71.7" r="1.2"/><circle cx="671.7" cy="61.4" r="1.2"/><circle cx="664.3" cy="75.5" r="1.2"/><circle cx="653.1" cy="72.9" r="1.2"/><circle cx="648.4" cy="67.8" r="1.2"/><circle cx="649.3" cy="89.4" r="1.2"/><circle cx="634.0" cy="78.2" r="1.2"/><circle cx="670.7" cy="64.3" r="1.2"/><circle cx="672.0" cy="76.1" r="1.2"/><circle cx="672.1" cy="68.9" r="1.2"/><circle cx="629.4" cy="82.5" r="1.2"/><circle cx="681.4" cy="78.2" r="1.2"/><circle cx="670.7" cy="66.2" r="1.2"/><circle cx="662.3" cy="66.0" r="1.2"/><circle cx="669.3" cy="66.0" r="1.2"/><circle cx="698.1" cy="66.3" r="1.2"/><circle cx="654.1" cy="60.5" r="1.2"/><circle cx="693.4" cy="69.5" r="1.2"/><circle cx="678.8" cy="71.2" r="1.2"/><circle cx="647.6" cy="82.4" r="1.2"/><circle cx="672.9" cy="72.7" r="1.2"/><circle cx="659.0" cy="79.8" r="1.2"/><circle cx="657.7" cy="86.3" r="1.2"/><circle cx="647.6" cy="74.2" r="1.2"/><circle cx="659.3" cy="73.2" r="1.2"/><circle cx="630.3" cy="78.1" r="1.2"/><circle cx="652.5" cy="52.6" r="1.2"/><circle cx="633.8" cy="82.4" r="1.2"/><circle cx="655.8" cy="70.5" r="1.2"/><circle cx="657.9" cy="72.6" r="1.2"/><circle cx="672.1" cy="67.6" r="1.2"/><circle cx="655.7" cy="83.3" r="1.2"/><circle cx="667.0" cy="61.5" r="1.2"/><circle cx="653.8" cy="68.9" r="1.2"/><circle cx="657.1" cy="65.1" r="1.2"/><circle cx="677.7" cy="75.5" r="1.2"/><circle cx="652.9" cy="76.8" r="1.2"/><circle cx="677.5" cy="59.9" r="1.2"/><circle cx="648.1" cy="77.1" r="1.2"/><circle cx="642.2" cy="79.9" r="1.2"/><circle cx="691.4" cy="66.4" r="1.2"/><circle cx="655.0" cy="74.0" r="1.2"/><circle cx="649.3" cy="59.5" r="1.2"/><circle cx="636.2" cy="80.8" r="1.2"/><circle cx="651.0" cy="76.9" r="1.2"/><circle cx="632.8" cy="83.0" r="1.2"/><circle cx="660.5" cy="67.1" r="1.2"/><circle cx="670.9" cy="81.1" r="1.2"/><circle cx="661.7" cy="69.9" r="1.2"/><circle cx="690.1" cy="67.5" r="1.2"/><circle cx="670.6" cy="69.5" r="1.2"/><circle cx="673.7" cy="81.3" r="1.2"/><circle cx="664.6" cy="74.6" r="1.2"/><circle cx="692.2" cy="71.0" r="1.2"/><circle cx="649.9" cy="77.3" r="1.2"/><circle cx="658.7" cy="58.8" r="1.2"/><circle cx="669.0" cy="75.5" r="1.2"/><circle cx="671.5" cy="71.4" r="1.2"/><circle cx="643.5" cy="68.9" r="1.2"/><circle cx="678.8" cy="81.7" r="1.2"/><circle cx="642.6" cy="81.0" r="1.2"/><circle cx="634.6" cy="86.2" r="1.2"/><circle cx="691.1" cy="61.2" r="1.2"/><circle cx="623.0" cy="79.9" r="1.2"/><circle cx="642.0" cy="73.7" r="1.2"/><circle cx="679.2" cy="79.0" r="1.2"/><circle cx="657.0" cy="58.7" r="1.2"/><circle cx="642.3" cy="75.0" r="1.2"/><circle cx="646.4" cy="72.1" r="1.2"/><circle cx="670.4" cy="66.6" r="1.2"/><circle cx="673.4" cy="63.3" r="1.2"/><circle cx="669.0" cy="71.4" r="1.2"/><circle cx="632.2" cy="80.7" r="1.2"/><circle cx="678.8" cy="72.5" r="1.2"/><circle cx="701.3" cy="74.7" r="1.2"/><circle cx="657.6" cy="63.2" r="1.2"/><circle cx="649.7" cy="88.9" r="1.2"/><circle cx="638.3" cy="92.2" r="1.2"/><circle cx="659.7" cy="68.7" r="1.2"/><circle cx="627.6" cy="80.7" r="1.2"/><circle cx="692.4" cy="71.7" r="1.2"/><circle cx="660.6" cy="65.2" r="1.2"/><circle cx="685.1" cy="73.2" r="1.2"/><circle cx="666.4" cy="57.0" r="1.2"/><circle cx="674.3" cy="77.7" r="1.2"/><circle cx="675.5" cy="59.4" r="1.2"/><circle cx="654.7" cy="70.1" r="1.2"/><circle cx="633.8" cy="80.9" r="1.2"/><circle cx="641.6" cy="75.5" r="1.2"/><circle cx="661.3" cy="56.9" r="1.2"/><circle cx="633.8" cy="78.1" r="1.2"/><circle cx="643.3" cy="76.2" r="1.2"/><circle cx="682.0" cy="63.9" r="1.2"/><circle cx="678.3" cy="63.2" r="1.2"/><circle cx="689.9" cy="73.0" r="1.2"/><circle cx="713.2" cy="74.1" r="1.2"/><circle cx="640.5" cy="73.2" r="1.2"/><circle cx="664.9" cy="58.6" r="1.2"/><circle cx="673.2" cy="71.4" r="1.2"/><circle cx="676.4" cy="55.1" r="1.2"/><circle cx="701.1" cy="75.9" r="1.2"/><circle cx="686.2" cy="70.8" r="1.2"/><circle cx="682.5" cy="70.8" r="1.2"/><circle cx="669.2" cy="74.8" r="1.2"/><circle cx="690.8" cy="67.1" r="1.2"/><circle cx="662.9" cy="76.3" r="1.2"/><circle cx="667.4" cy="76.4" r="1.2"/><circle cx="666.2" cy="60.0" r="1.2"/><circle cx="665.8" cy="73.1" r="1.2"/><circle cx="652.8" cy="73.6" r="1.2"/><circle cx="668.3" cy="73.9" r="1.2"/><circle cx="668.9" cy="80.9" r="1.2"/><circle cx="677.1" cy="61.6" r="1.2"/><circle cx="667.6" cy="71.5" r="1.2"/><circle cx="669.1" cy="77.6" r="1.2"/><circle cx="668.3" cy="69.6" r="1.2"/><circle cx="663.6" cy="66.2" r="1.2"/><circle cx="679.8" cy="70.2" r="1.2"/><circle cx="631.4" cy="76.6" r="1.2"/><circle cx="627.6" cy="86.7" r="1.2"/><circle cx="650.4" cy="75.9" r="1.2"/><circle cx="622.6" cy="82.5" r="1.2"/><circle cx="666.1" cy="64.8" r="1.2"/><circle cx="667.6" cy="68.2" r="1.2"/><circle cx="642.1" cy="79.6" r="1.2"/><circle cx="680.8" cy="67.1" r="1.2"/><circle cx="654.8" cy="70.7" r="1.2"/><circle cx="668.3" cy="71.4" r="1.2"/><circle cx="684.9" cy="71.8" r="1.2"/><circle cx="683.5" cy="76.9" r="1.2"/><circle cx="709.6" cy="74.9" r="1.2"/><circle cx="663.4" cy="67.3" r="1.2"/><circle cx="683.9" cy="67.8" r="1.2"/><circle cx="650.1" cy="83.7" r="1.2"/><circle cx="695.6" cy="80.4" r="1.2"/><circle cx="654.7" cy="70.9" r="1.2"/><circle cx="661.1" cy="65.1" r="1.2"/><circle cx="661.8" cy="65.1" r="1.2"/><circle cx="687.7" cy="62.7" r="1.2"/><circle cx="652.1" cy="76.4" r="1.2"/><circle cx="707.1" cy="74.8" r="1.2"/><circle cx="650.9" cy="78.8" r="1.2"/><circle cx="679.0" cy="83.5" r="1.2"/><circle cx="655.4" cy="71.5" r="1.2"/><circle cx="643.6" cy="84.1" r="1.2"/><circle cx="650.9" cy="69.0" r="1.2"/><circle cx="655.4" cy="67.8" r="1.2"/><circle cx="685.2" cy="72.6" r="1.2"/><circle cx="655.0" cy="74.5" r="1.2"/><circle cx="676.9" cy="77.5" r="1.2"/><circle cx="655.6" cy="80.3" r="1.2"/><circle cx="655.8" cy="78.5" r="1.2"/><circle cx="679.1" cy="74.5" r="1.2"/><circle cx="658.0" cy="77.6" r="1.2"/><circle cx="683.0" cy="79.8" r="1.2"/><circle cx="650.2" cy="68.8" r="1.2"/><circle cx="681.2" cy="78.4" r="1.2"/><circle cx="667.7" cy="60.6" r="1.2"/><circle cx="672.1" cy="69.2" r="1.2"/><circle cx="678.2" cy="77.0" r="1.2"/><circle cx="663.5" cy="66.8" r="1.2"/><circle cx="662.1" cy="68.8" r="1.2"/><circle cx="685.0" cy="70.0" r="1.2"/><circle cx="678.2" cy="64.9" r="1.2"/><circle cx="653.9" cy="76.8" r="1.2"/><circle cx="669.5" cy="59.1" r="1.2"/><circle cx="654.0" cy="74.1" r="1.2"/><circle cx="680.1" cy="77.3" r="1.2"/><circle cx="662.5" cy="70.8" r="1.2"/><circle cx="660.2" cy="68.1" r="1.2"/><circle cx="706.9" cy="72.3" r="1.2"/><circle cx="665.5" cy="68.2" r="1.2"/><circle cx="664.2" cy="71.0" r="1.2"/><circle cx="647.9" cy="70.5" r="1.2"/><circle cx="668.9" cy="75.0" r="1.2"/><circle cx="666.4" cy="82.7" r="1.2"/><circle cx="661.8" cy="56.2" r="1.2"/><circle cx="626.6" cy="95.3" r="1.2"/><circle cx="640.9" cy="81.7" r="1.2"/><circle cx="639.7" cy="84.4" r="1.2"/><circle cx="663.9" cy="64.4" r="1.2"/><circle cx="641.4" cy="67.6" r="1.2"/><circle cx="682.7" cy="65.3" r="1.2"/><circle cx="656.4" cy="68.6" r="1.2"/><circle cx="628.4" cy="99.9" r="1.2"/><circle cx="670.1" cy="57.0" r="1.2"/><circle cx="656.0" cy="68.2" r="1.2"/><circle cx="645.0" cy="77.3" r="1.2"/><circle cx="674.0" cy="77.9" r="1.2"/><circle cx="650.1" cy="71.2" r="1.2"/><circle cx="647.0" cy="67.2" r="1.2"/><circle cx="652.8" cy="75.7" r="1.2"/><circle cx="658.6" cy="71.3" r="1.2"/><circle cx="667.9" cy="70.2" r="1.2"/><circle cx="653.7" cy="76.6" r="1.2"/><circle cx="665.5" cy="76.9" r="1.2"/><circle cx="663.0" cy="77.6" r="1.2"/><circle cx="670.7" cy="69.9" r="1.2"/><circle cx="678.5" cy="63.8" r="1.2"/><circle cx="683.3" cy="68.2" r="1.2"/><circle cx="670.7" cy="67.9" r="1.2"/><circle cx="667.3" cy="63.0" r="1.2"/><circle cx="718.0" cy="79.8" r="1.2"/><circle cx="628.7" cy="88.6" r="1.2"/><circle cx="656.0" cy="71.9" r="1.2"/><circle cx="679.3" cy="74.3" r="1.2"/><circle cx="674.9" cy="70.2" r="1.2"/><circle cx="652.2" cy="72.9" r="1.2"/><circle cx="653.6" cy="72.6" r="1.2"/><circle cx="652.7" cy="70.0" r="1.2"/><circle cx="695.5" cy="65.2" r="1.2"/><circle cx="654.7" cy="63.5" r="1.2"/><circle cx="654.1" cy="70.0" r="1.2"/><circle cx="660.2" cy="70.6" r="1.2"/><circle cx="686.2" cy="69.0" r="1.2"/><circle cx="675.6" cy="69.5" r="1.2"/><circle cx="644.6" cy="84.3" r="1.2"/><circle cx="668.9" cy="66.8" r="1.2"/><circle cx="651.3" cy="81.8" r="1.2"/><circle cx="683.2" cy="75.2" r="1.2"/><circle cx="670.3" cy="71.0" r="1.2"/><circle cx="659.6" cy="77.0" r="1.2"/><circle cx="643.5" cy="67.7" r="1.2"/><circle cx="658.2" cy="76.7" r="1.2"/><circle cx="674.4" cy="70.3" r="1.2"/><circle cx="694.0" cy="72.8" r="1.2"/><circle cx="664.3" cy="67.7" r="1.2"/><circle cx="661.7" cy="62.4" r="1.2"/><circle cx="666.0" cy="68.7" r="1.2"/><circle cx="687.7" cy="57.4" r="1.2"/><circle cx="644.0" cy="80.0" r="1.2"/><circle cx="653.1" cy="68.1" r="1.2"/><circle cx="656.1" cy="78.9" r="1.2"/><circle cx="689.2" cy="74.3" r="1.2"/><circle cx="637.3" cy="88.7" r="1.2"/><circle cx="683.8" cy="77.1" r="1.2"/><circle cx="655.8" cy="67.5" r="1.2"/><circle cx="680.5" cy="66.7" r="1.2"/><circle cx="652.6" cy="61.0" r="1.2"/><circle cx="667.1" cy="61.9" r="1.2"/><circle cx="647.9" cy="87.7" r="1.2"/><circle cx="690.2" cy="67.0" r="1.2"/><circle cx="635.9" cy="83.9" r="1.2"/><circle cx="641.6" cy="86.9" r="1.2"/><circle cx="687.1" cy="73.4" r="1.2"/><circle cx="661.3" cy="77.2" r="1.2"/><circle cx="650.7" cy="74.5" r="1.2"/><circle cx="652.6" cy="63.2" r="1.2"/><circle cx="664.5" cy="73.0" r="1.2"/><circle cx="639.5" cy="79.5" r="1.2"/><circle cx="666.8" cy="65.8" r="1.2"/><circle cx="707.7" cy="60.3" r="1.2"/><circle cx="685.6" cy="72.0" r="1.2"/><circle cx="648.4" cy="57.0" r="1.2"/><circle cx="678.6" cy="71.1" r="1.2"/><circle cx="675.4" cy="78.3" r="1.2"/><circle cx="652.4" cy="69.9" r="1.2"/><circle cx="660.9" cy="76.2" r="1.2"/><circle cx="662.3" cy="73.3" r="1.2"/><circle cx="684.7" cy="70.7" r="1.2"/><circle cx="680.1" cy="64.8" r="1.2"/><circle cx="679.8" cy="60.6" r="1.2"/><circle cx="667.5" cy="63.5" r="1.2"/><circle cx="663.6" cy="74.6" r="1.2"/><circle cx="655.8" cy="69.8" r="1.2"/><circle cx="672.9" cy="70.3" r="1.2"/><circle cx="646.8" cy="67.0" r="1.2"/><circle cx="655.6" cy="65.3" r="1.2"/><circle cx="663.6" cy="58.1" r="1.2"/><circle cx="656.7" cy="80.2" r="1.2"/><circle cx="679.2" cy="75.5" r="1.2"/><circle cx="640.9" cy="73.4" r="1.2"/><circle cx="643.1" cy="83.4" r="1.2"/><circle cx="674.1" cy="80.3" r="1.2"/><circle cx="640.7" cy="77.1" r="1.2"/><circle cx="657.6" cy="66.4" r="1.2"/><circle cx="677.7" cy="66.2" r="1.2"/><circle cx="657.6" cy="74.9" r="1.2"/><circle cx="664.5" cy="66.3" r="1.2"/><circle cx="657.8" cy="72.9" r="1.2"/><circle cx="682.1" cy="76.7" r="1.2"/><circle cx="675.3" cy="68.6" r="1.2"/><circle cx="654.0" cy="79.8" r="1.2"/><circle cx="665.1" cy="80.3" r="1.2"/><circle cx="686.7" cy="75.9" r="1.2"/><circle cx="659.3" cy="78.4" r="1.2"/><circle cx="664.7" cy="65.8" r="1.2"/><circle cx="672.1" cy="72.6" r="1.2"/><circle cx="668.9" cy="66.3" r="1.2"/><circle cx="669.2" cy="78.0" r="1.2"/><circle cx="666.4" cy="69.1" r="1.2"/><circle cx="675.0" cy="63.3" r="1.2"/><circle cx="685.7" cy="80.6" r="1.2"/><circle cx="692.4" cy="63.3" r="1.2"/><circle cx="679.1" cy="65.8" r="1.2"/><circle cx="674.2" cy="79.5" r="1.2"/><circle cx="649.3" cy="73.0" r="1.2"/><circle cx="679.1" cy="65.8" r="1.2"/><circle cx="665.0" cy="57.8" r="1.2"/><circle cx="658.4" cy="74.7" r="1.2"/><circle cx="647.8" cy="76.9" r="1.2"/><circle cx="676.6" cy="82.3" r="1.2"/><circle cx="667.5" cy="78.8" r="1.2"/><circle cx="651.0" cy="76.4" r="1.2"/><circle cx="659.0" cy="60.2" r="1.2"/><circle cx="667.8" cy="84.2" r="1.2"/><circle cx="674.7" cy="69.2" r="1.2"/><circle cx="640.0" cy="80.2" r="1.2"/><circle cx="652.8" cy="69.9" r="1.2"/><circle cx="654.4" cy="79.7" r="1.2"/><circle cx="665.3" cy="66.9" r="1.2"/><circle cx="662.8" cy="71.4" r="1.2"/><circle cx="631.8" cy="85.8" r="1.2"/><circle cx="657.5" cy="78.1" r="1.2"/><circle cx="659.5" cy="69.0" r="1.2"/><circle cx="666.8" cy="70.7" r="1.2"/><circle cx="652.8" cy="71.4" r="1.2"/><circle cx="673.4" cy="65.4" r="1.2"/><circle cx="636.6" cy="79.7" r="1.2"/><circle cx="633.7" cy="81.3" r="1.2"/><circle cx="673.5" cy="67.4" r="1.2"/><circle cx="640.7" cy="76.9" r="1.2"/><circle cx="666.2" cy="69.2" r="1.2"/><circle cx="677.6" cy="67.8" r="1.2"/><circle cx="665.4" cy="73.1" r="1.2"/><circle cx="644.0" cy="74.6" r="1.2"/><circle cx="644.8" cy="72.4" r="1.2"/><circle cx="704.0" cy="70.7" r="1.2"/><circle cx="674.2" cy="71.5" r="1.2"/><circle cx="684.3" cy="67.3" r="1.2"/><circle cx="656.9" cy="76.7" r="1.2"/><circle cx="688.3" cy="69.6" r="1.2"/><circle cx="622.6" cy="93.9" r="1.2"/><circle cx="665.8" cy="60.6" r="1.2"/><circle cx="667.7" cy="62.7" r="1.2"/><circle cx="649.0" cy="65.3" r="1.2"/><circle cx="649.3" cy="78.7" r="1.2"/><circle cx="655.6" cy="74.9" r="1.2"/><circle cx="670.9" cy="71.1" r="1.2"/><circle cx="640.1" cy="86.3" r="1.2"/><circle cx="680.9" cy="64.4" r="1.2"/><circle cx="632.0" cy="70.5" r="1.2"/><circle cx="668.5" cy="69.7" r="1.2"/><circle cx="648.1" cy="81.4" r="1.2"/><circle cx="696.2" cy="70.6" r="1.2"/><circle cx="647.1" cy="69.1" r="1.2"/><circle cx="664.4" cy="69.1" r="1.2"/><circle cx="679.1" cy="57.9" r="1.2"/><circle cx="684.5" cy="64.4" r="1.2"/><circle cx="648.5" cy="74.0" r="1.2"/><circle cx="653.7" cy="76.9" r="1.2"/><circle cx="659.7" cy="69.0" r="1.2"/><circle cx="681.3" cy="71.4" r="1.2"/><circle cx="666.4" cy="49.3" r="1.2"/><circle cx="677.7" cy="63.1" r="1.2"/><circle cx="631.2" cy="77.7" r="1.2"/><circle cx="703.6" cy="72.7" r="1.2"/><circle cx="709.9" cy="65.4" r="1.2"/><circle cx="655.8" cy="73.4" r="1.2"/><circle cx="679.4" cy="62.0" r="1.2"/><circle cx="648.9" cy="83.1" r="1.2"/><circle cx="652.7" cy="71.7" r="1.2"/><circle cx="665.0" cy="69.5" r="1.2"/><circle cx="629.8" cy="68.3" r="1.2"/><circle cx="677.3" cy="64.6" r="1.2"/><circle cx="654.0" cy="67.5" r="1.2"/><circle cx="669.8" cy="71.1" r="1.2"/><circle cx="668.9" cy="74.4" r="1.2"/><circle cx="656.1" cy="65.2" r="1.2"/><circle cx="681.0" cy="70.6" r="1.2"/><circle cx="685.7" cy="75.6" r="1.2"/><circle cx="653.3" cy="74.9" r="1.2"/><circle cx="661.7" cy="71.3" r="1.2"/><circle cx="675.6" cy="71.1" r="1.2"/><circle cx="681.0" cy="68.0" r="1.2"/><circle cx="670.2" cy="70.4" r="1.2"/><circle cx="647.5" cy="74.2" r="1.2"/><circle cx="666.0" cy="63.7" r="1.2"/><circle cx="663.0" cy="69.6" r="1.2"/><circle cx="644.8" cy="77.9" r="1.2"/><circle cx="651.4" cy="64.7" r="1.2"/><circle cx="698.1" cy="68.1" r="1.2"/><circle cx="664.1" cy="68.7" r="1.2"/><circle cx="713.6" cy="72.0" r="1.2"/><circle cx="666.8" cy="72.8" r="1.2"/><circle cx="661.3" cy="77.1" r="1.2"/><circle cx="670.7" cy="88.9" r="1.2"/><circle cx="660.2" cy="75.2" r="1.2"/><circle cx="647.3" cy="73.5" r="1.2"/><circle cx="660.6" cy="73.7" r="1.2"/><circle cx="641.2" cy="68.1" r="1.2"/><circle cx="648.7" cy="75.3" r="1.2"/><circle cx="684.8" cy="58.5" r="1.2"/><circle cx="666.0" cy="63.4" r="1.2"/><circle cx="699.8" cy="65.2" r="1.2"/><circle cx="663.0" cy="65.2" r="1.2"/><circle cx="671.6" cy="72.8" r="1.2"/><circle cx="656.2" cy="66.8" r="1.2"/><circle cx="681.4" cy="69.5" r="1.2"/><circle cx="658.5" cy="66.5" r="1.2"/><circle cx="674.1" cy="64.4" r="1.2"/><circle cx="653.4" cy="77.4" r="1.2"/><circle cx="674.8" cy="68.0" r="1.2"/><circle cx="660.4" cy="64.9" r="1.2"/><circle cx="662.4" cy="70.2" r="1.2"/><circle cx="663.5" cy="67.5" r="1.2"/><circle cx="687.6" cy="73.1" r="1.2"/><circle cx="670.3" cy="67.7" r="1.2"/><circle cx="667.9" cy="62.9" r="1.2"/><circle cx="635.4" cy="68.3" r="1.2"/><circle cx="644.2" cy="78.1" r="1.2"/><circle cx="676.7" cy="58.4" r="1.2"/><circle cx="645.1" cy="79.2" r="1.2"/><circle cx="674.9" cy="65.5" r="1.2"/><circle cx="671.6" cy="75.5" r="1.2"/><circle cx="680.1" cy="83.2" r="1.2"/><circle cx="664.2" cy="62.8" r="1.2"/><circle cx="672.5" cy="82.0" r="1.2"/><circle cx="671.9" cy="67.7" r="1.2"/><circle cx="674.1" cy="65.1" r="1.2"/><circle cx="642.2" cy="72.4" r="1.2"/><circle cx="657.5" cy="61.1" r="1.2"/><circle cx="660.2" cy="73.6" r="1.2"/><circle cx="663.2" cy="66.3" r="1.2"/><circle cx="659.7" cy="70.3" r="1.2"/><circle cx="697.1" cy="70.6" r="1.2"/><circle cx="678.4" cy="52.2" r="1.2"/><circle cx="706.4" cy="69.4" r="1.2"/><circle cx="673.0" cy="81.0" r="1.2"/><circle cx="644.0" cy="69.7" r="1.2"/><circle cx="668.3" cy="63.0" r="1.2"/><circle cx="643.1" cy="82.2" r="1.2"/><circle cx="661.9" cy="68.4" r="1.2"/><circle cx="657.6" cy="66.7" r="1.2"/><circle cx="660.0" cy="60.3" r="1.2"/><circle cx="681.6" cy="60.7" r="1.2"/><circle cx="667.1" cy="59.9" r="1.2"/><circle cx="701.2" cy="64.9" r="1.2"/><circle cx="657.4" cy="71.1" r="1.2"/><circle cx="676.1" cy="60.7" r="1.2"/><circle cx="677.1" cy="63.3" r="1.2"/><circle cx="648.9" cy="73.1" r="1.2"/><circle cx="674.9" cy="65.7" r="1.2"/><circle cx="689.1" cy="75.5" r="1.2"/><circle cx="656.1" cy="69.4" r="1.2"/><circle cx="661.7" cy="65.2" r="1.2"/><circle cx="676.0" cy="64.5" r="1.2"/><circle cx="647.9" cy="67.8" r="1.2"/><circle cx="662.0" cy="74.7" r="1.2"/><circle cx="685.8" cy="69.8" r="1.2"/><circle cx="688.3" cy="67.3" r="1.2"/></g>
<path d="M436.3 267.2C437.6 266.3 441.4 263.4 443.9 261.6C446.5 259.8 449.0 258.0 451.6 256.3C454.1 254.6 456.7 252.9 459.2 251.2C461.8 249.5 464.3 247.9 466.8 246.2C469.4 244.6 471.9 243.0 474.5 241.5C477.0 239.9 479.6 238.3 482.1 236.8C484.7 235.3 487.2 233.8 489.8 232.3C492.3 230.8 494.9 229.3 497.4 227.8C499.9 226.3 502.5 224.9 505.0 223.4C507.6 222.0 510.1 220.6 512.7 219.1C515.2 217.7 517.8 216.3 520.3 214.9C522.9 213.5 525.4 212.1 527.9 210.8C530.5 209.4 533.0 208.0 535.6 206.7C538.1 205.3 540.7 204.0 543.2 202.7C545.8 201.4 548.3 200.0 550.9 198.8C553.4 197.5 555.9 196.2 558.5 194.9C561.0 193.7 563.6 192.4 566.1 191.2C568.7 190.0 571.2 188.8 573.8 187.6C576.3 186.4 578.9 185.2 581.4 184.1C583.9 183.0 586.5 181.9 589.0 180.8C591.6 179.8 594.1 178.7 596.7 177.7C599.2 176.8 601.8 175.8 604.3 174.9C606.9 174.0 609.4 173.1 612.0 172.3C614.5 171.5 617.0 170.7 619.6 170.0C622.1 169.3 624.7 168.6 627.2 168.0C629.8 167.5 632.3 166.9 634.9 166.5C637.4 166.0 641.2 165.5 642.5 165.3" stroke="#f5a21a" stroke-width="1.55" fill="none" stroke-linecap="butt"/>
<path d="M420.9 266.7C422.3 265.7 426.6 262.6 429.4 260.7C432.2 258.7 435.0 256.8 437.9 254.9C440.7 253.1 443.5 251.2 446.4 249.4C449.2 247.6 452.0 245.8 454.8 244.0C457.7 242.3 460.5 240.5 463.3 238.8C466.2 237.1 469.0 235.4 471.8 233.7C474.6 232.0 477.5 230.3 480.3 228.7C483.1 227.0 486.0 225.4 488.8 223.7C491.6 222.1 494.4 220.4 497.3 218.8C500.1 217.2 502.9 215.6 505.8 214.0C508.6 212.3 511.4 210.7 514.2 209.1C517.1 207.5 519.9 206.0 522.7 204.4C525.6 202.8 528.4 201.2 531.2 199.6C534.0 198.1 536.9 196.5 539.7 195.0C542.5 193.4 545.3 191.9 548.2 190.3C551.0 188.8 553.8 187.3 556.7 185.8C559.5 184.3 562.3 182.8 565.1 181.3C568.0 179.9 570.8 178.4 573.6 177.0C576.5 175.6 579.3 174.2 582.1 172.9C584.9 171.5 587.8 170.2 590.6 168.9C593.4 167.6 596.3 166.4 599.1 165.1C601.9 163.9 604.7 162.8 607.6 161.7C610.4 160.6 613.2 159.5 616.1 158.5C618.9 157.5 621.7 156.6 624.5 155.7C627.4 154.9 630.2 154.1 633.0 153.4C635.9 152.7 638.7 152.1 641.5 151.5C644.3 151.0 648.6 150.5 650.0 150.2" stroke="#f01818" stroke-width="1.7" fill="none" stroke-linecap="butt"/>
<path d="M489.1 149.6C490.4 149.0 494.3 147.3 496.9 146.2C499.5 145.0 502.1 143.9 504.7 142.7C507.3 141.5 509.9 140.4 512.4 139.2C515.0 138.1 517.6 136.9 520.2 135.7C522.8 134.6 525.4 133.4 528.0 132.2C530.6 131.1 533.2 129.9 535.8 128.8C538.4 127.6 541.0 126.5 543.6 125.3C546.2 124.2 548.8 123.1 551.4 121.9C553.9 120.8 556.5 119.7 559.1 118.6C561.7 117.5 564.3 116.4 566.9 115.3C569.5 114.2 572.1 113.1 574.7 112.1C577.3 111.0 579.9 110.0 582.5 108.9C585.1 107.9 587.7 106.9 590.3 105.9C592.9 104.9 595.4 103.9 598.0 102.9C600.6 101.9 603.2 101.0 605.8 100.1C608.4 99.1 611.0 98.2 613.6 97.4C616.2 96.5 618.8 95.6 621.4 94.8C624.0 93.9 626.6 93.1 629.2 92.3C631.8 91.5 634.4 90.8 636.9 90.0C639.5 89.3 642.1 88.6 644.7 87.9C647.3 87.2 649.9 86.6 652.5 86.0C655.1 85.3 657.7 84.8 660.3 84.2C662.9 83.6 665.5 83.1 668.1 82.6C670.7 82.1 673.3 81.7 675.9 81.3C678.4 80.9 681.0 80.5 683.6 80.1C686.2 79.8 688.8 79.5 691.4 79.2C694.0 79.0 697.9 78.7 699.2 78.6" stroke="#1a1af0" stroke-width="1.65" fill="none" stroke-linecap="butt"/>
<defs>
<radialGradient id="gJ" cx="0.45" cy="0.42" r="0.6"><stop offset="0" stop-color="#efe6d8"/><stop offset="0.75" stop-color="#c9b9a2"/><stop offset="1" stop-color="#4a4038"/></radialGradient>
<radialGradient id="gJs" cx="0.47" cy="0.45" r="0.55"><stop offset="0" stop-color="#fff" stop-opacity="0.12"/><stop offset="0.7" stop-color="#777" stop-opacity="0"/><stop offset="0.9" stop-color="#222" stop-opacity="0.35"/><stop offset="1" stop-color="#111" stop-opacity="0.9"/></radialGradient>
<radialGradient id="gS" cx="0.45" cy="0.42" r="0.6"><stop offset="0" stop-color="#dcc69a"/><stop offset="0.72" stop-color="#bea272"/><stop offset="1" stop-color="#3a2e1c"/></radialGradient>
<radialGradient id="gU" cx="0.4" cy="0.42" r="0.62"><stop offset="0" stop-color="#4fc0dc"/><stop offset="0.6" stop-color="#2799ba"/><stop offset="0.88" stop-color="#176c88"/><stop offset="1" stop-color="#0c3444"/></radialGradient>
<radialGradient id="gN" cx="0.42" cy="0.45" r="0.58"><stop offset="0" stop-color="#4a6ef2"/><stop offset="0.5" stop-color="#2846d6"/><stop offset="0.8" stop-color="#182494"/><stop offset="1" stop-color="#060a28"/></radialGradient>
<radialGradient id="gV" cx="0.45" cy="0.42" r="0.6"><stop offset="0" stop-color="#e6a038"/><stop offset="0.6" stop-color="#c47818"/><stop offset="0.88" stop-color="#8a4c10"/><stop offset="1" stop-color="#3a2006"/></radialGradient>
<radialGradient id="gE" cx="0.45" cy="0.42" r="0.6"><stop offset="0" stop-color="#aeb6d6"/><stop offset="0.6" stop-color="#7480b2"/><stop offset="0.9" stop-color="#3c4678"/><stop offset="1" stop-color="#1c2244"/></radialGradient>
<radialGradient id="gM" cx="0.45" cy="0.42" r="0.6"><stop offset="0" stop-color="#c07a40"/><stop offset="0.6" stop-color="#a0602e"/><stop offset="0.88" stop-color="#6a3c1c"/><stop offset="1" stop-color="#2c180c"/></radialGradient>
<radialGradient id="gMe" cx="0.45" cy="0.42" r="0.6"><stop offset="0" stop-color="#8a8a8a"/><stop offset="1" stop-color="#484848"/></radialGradient>
<radialGradient id="gGa" cx="0.45" cy="0.42" r="0.6"><stop offset="0" stop-color="#a89c8c"/><stop offset="1" stop-color="#4c443c"/></radialGradient>
<radialGradient id="gCa" cx="0.45" cy="0.42" r="0.6"><stop offset="0" stop-color="#8a7460"/><stop offset="1" stop-color="#3c3028"/></radialGradient>
<radialGradient id="gTi" cx="0.5" cy="0.5" r="0.5"><stop offset="0" stop-color="#d8e070"/><stop offset="0.45" stop-color="#58c8b0"/><stop offset="0.8" stop-color="#187868"/><stop offset="1" stop-color="#0c2c30"/></radialGradient>
<radialGradient id="gIo" cx="0.45" cy="0.42" r="0.6"><stop offset="0" stop-color="#f4e460"/><stop offset="0.75" stop-color="#dcc038"/><stop offset="1" stop-color="#80701c"/></radialGradient>
<radialGradient id="gLu" cx="0.45" cy="0.42" r="0.6"><stop offset="0" stop-color="#6a6a6a"/><stop offset="1" stop-color="#2c2c2c"/></radialGradient>
</defs>
<circle cx="177.5" cy="260.7" r="2.4" fill="url(#gMe)"/>
<circle cx="206.3" cy="267.2" r="2.8" fill="url(#gLu)"/>
<circle cx="263.9" cy="266.7" r="2.5" fill="url(#gIo)"/>
<circle cx="263.9" cy="256.3" r="2.5" fill="url(#gCa)"/>
<circle cx="263.6" cy="249.6" r="2.5" fill="url(#gGa)"/>
<circle cx="281.0" cy="251.4" r="2.2" fill="url(#gTi)"/>
<circle cx="218.7" cy="239.5" r="3.8" fill="url(#gM)"/>
<circle cx="195.0" cy="207.8" r="4.7" fill="url(#gV)"/>
<circle cx="206.3" cy="204.8" r="4.8" fill="url(#gE)"/>
<path d="M203.9 203.4q2.4 -2.4 4.3 -0.5q-1.0 2.4 -3.4 2.4z" fill="#fff" opacity="0.7"/>
<path d="M204.9 206.2q2.4 0.5 3.8 -0.5" stroke="#4a5688" stroke-width="0.9" fill="none" opacity="0.8"/>
<circle cx="300.8" cy="138.6" r="6.5" fill="url(#gU)"/>
<path d="M298.5 132.6Q295.9 138.6 298.5 144.6" stroke="#bfeef5" stroke-width="1.2" fill="none" opacity="0.7"/>
<circle cx="315.6" cy="142.4" r="7.5" fill="url(#gN)"/>
<g transform="rotate(-16.9 280.9 93.3)">
<ellipse cx="280.9" cy="93.3" rx="14.3" ry="1.0" fill="#a89470" stroke="#2e2618" stroke-width="0.9"/>
<circle cx="280.9" cy="93.3" r="5.2" fill="url(#gS)"/>
<path d="M275.6 93.2A14.3 1.0 0 0 1 286.2 93.2" fill="none" stroke="#3a3020" stroke-width="0.9"/>
</g>
<g><clipPath id="cj264"><circle cx="264.1" cy="81.4" r="10.7"/></clipPath>
<circle cx="264.1" cy="81.4" r="11.0" fill="#2c2a26"/>
<g clip-path="url(#cj264)">
<rect x="253.1" y="70.40" width="22.0" height="4.38" fill="#9a9584"/>
<rect x="253.1" y="74.58" width="22.0" height="2.40" fill="#b4ad9c"/>
<rect x="253.1" y="76.78" width="22.0" height="2.62" fill="#e9e4da"/>
<rect x="253.1" y="79.20" width="22.0" height="1.30" fill="#b0926e"/>
<rect x="253.1" y="80.30" width="22.0" height="2.40" fill="#dbd0bc"/>
<rect x="253.1" y="82.50" width="22.0" height="2.40" fill="#a9825e"/>
<rect x="253.1" y="84.70" width="22.0" height="2.40" fill="#d3cfc6"/>
<rect x="253.1" y="86.90" width="22.0" height="2.62" fill="#aaa598"/>
<rect x="253.1" y="89.32" width="22.0" height="3.28" fill="#8d897e"/>
<ellipse cx="268.9" cy="85.4" rx="1.6" ry="0.8" fill="#d4701c"/>
<circle cx="264.1" cy="81.4" r="11.0" fill="url(#gJs)"/>
</g></g>
<circle cx="406.2" cy="269.0" r="2.7" fill="url(#gLu)"/>
<circle cx="410.6" cy="266.9" r="2.5" fill="url(#gIo)"/>
<circle cx="417.5" cy="256.7" r="2.5" fill="url(#gCa)"/>
<circle cx="422.8" cy="251.7" r="2.2" fill="url(#gTi)"/>
<circle cx="426.4" cy="249.7" r="2.5" fill="url(#gGa)"/>
<circle cx="446.7" cy="261.1" r="2.4" fill="url(#gMe)"/>
<circle cx="461.1" cy="240.0" r="3.9" fill="url(#gM)"/>
<circle cx="515.3" cy="208.1" r="4.7" fill="url(#gV)"/>
<circle cx="520.3" cy="205.3" r="4.8" fill="url(#gE)"/>
<path d="M517.9 203.9q2.4 -2.4 4.3 -0.5q-1.0 2.4 -3.4 2.4z" fill="#fff" opacity="0.7"/>
<path d="M518.9 206.7q2.4 0.5 3.8 -0.5" stroke="#4a5688" stroke-width="0.9" fill="none" opacity="0.8"/>
<circle cx="587.7" cy="139.0" r="6.7" fill="url(#gU)"/>
<path d="M585.4 132.8Q582.7 139.0 585.4 145.2" stroke="#bfeef5" stroke-width="1.2" fill="none" opacity="0.7"/>
<circle cx="596.3" cy="143.0" r="7.5" fill="url(#gN)"/>
<g transform="rotate(-16.9 633.9 93.5)">
<ellipse cx="633.9" cy="93.5" rx="14.3" ry="1.0" fill="#a89470" stroke="#2e2618" stroke-width="0.9"/>
<circle cx="633.9" cy="93.5" r="5.2" fill="url(#gS)"/>
<path d="M628.6 93.4A14.3 1.0 0 0 1 639.2 93.4" fill="none" stroke="#3a3020" stroke-width="0.9"/>
</g>
<g><clipPath id="cj665"><circle cx="665.6" cy="81.3" r="10.5"/></clipPath>
<circle cx="665.6" cy="81.3" r="10.8" fill="#2c2a26"/>
<g clip-path="url(#cj665)">
<rect x="654.8" y="70.50" width="21.6" height="4.30" fill="#9a9584"/>
<rect x="654.8" y="74.60" width="21.6" height="2.36" fill="#b4ad9c"/>
<rect x="654.8" y="76.76" width="21.6" height="2.58" fill="#e9e4da"/>
<rect x="654.8" y="79.14" width="21.6" height="1.28" fill="#b0926e"/>
<rect x="654.8" y="80.22" width="21.6" height="2.36" fill="#dbd0bc"/>
<rect x="654.8" y="82.38" width="21.6" height="2.36" fill="#a9825e"/>
<rect x="654.8" y="84.54" width="21.6" height="2.36" fill="#d3cfc6"/>
<rect x="654.8" y="86.70" width="21.6" height="2.58" fill="#aaa598"/>
<rect x="654.8" y="89.08" width="21.6" height="3.22" fill="#8d897e"/>
<ellipse cx="670.4" cy="85.2" rx="1.6" ry="0.8" fill="#d4701c"/>
<circle cx="665.6" cy="81.3" r="10.8" fill="url(#gJs)"/>
</g></g>
<path d="M36.6 266.9V9.3" stroke="#2c2c2c" stroke-width="1.0" fill="none"/>
<path d="M35.2 9.3H354.6" stroke="#111" stroke-width="1.2" fill="none"/>
<path d="M354.6 8.700000000000001V266.9" stroke="#1c1c1c" stroke-width="1.1" fill="none"/>
<path d="M35.2 266.9H355.1" stroke="#606060" stroke-width="1.5" fill="none"/>
<path d="M35.0 266.90H36.6M35.0 206.28H36.6M35.0 171.38H36.6M35.0 125.24H36.6M35.0 90.34H36.6M35.0 55.44H36.6M35.0 9.30H36.6M35.6 252.41H36.6M35.6 241.18H36.6M35.6 232.00H36.6M35.6 224.24H36.6M35.6 217.51H36.6M35.6 211.58H36.6M35.6 150.96H36.6M35.6 136.48H36.6M35.6 116.06H36.6M35.6 108.30H36.6M35.6 101.57H36.6M35.6 95.64H36.6M35.6 35.02H36.6M35.6 20.54H36.6" stroke="#333" stroke-width="0.8" fill="none"/>
<path d="M59.50 266.9v2.2M133.20 266.9v2.2M206.90 266.9v2.2M280.60 266.9v2.2M354.30 266.9v2.2M37.31 266.9v1.5M43.15 266.9v1.5M48.08 266.9v1.5M52.36 266.9v1.5M56.13 266.9v1.5M81.69 266.9v1.5M94.66 266.9v1.5M103.87 266.9v1.5M111.01 266.9v1.5M116.85 266.9v1.5M121.78 266.9v1.5M126.06 266.9v1.5M129.83 266.9v1.5M155.39 266.9v1.5M168.36 266.9v1.5M177.57 266.9v1.5M184.71 266.9v1.5M190.55 266.9v1.5M195.48 266.9v1.5M199.76 266.9v1.5M203.53 266.9v1.5M229.09 266.9v1.5M242.06 266.9v1.5M251.27 266.9v1.5M258.41 266.9v1.5M264.25 266.9v1.5M269.18 266.9v1.5M273.46 266.9v1.5M277.23 266.9v1.5M302.79 266.9v1.5M315.76 266.9v1.5M324.97 266.9v1.5M332.11 266.9v1.5M337.95 266.9v1.5M342.88 266.9v1.5M347.16 266.9v1.5M350.93 266.9v1.5" stroke="#666" stroke-width="0.8" fill="none"/>
<path d="M403.8 266.9V9.3" stroke="#2c2c2c" stroke-width="1.0" fill="none"/>
<path d="M402.40000000000003 9.3H722.2" stroke="#111" stroke-width="1.2" fill="none"/>
<path d="M722.2 8.700000000000001V266.9" stroke="#1c1c1c" stroke-width="1.1" fill="none"/>
<path d="M402.40000000000003 266.9H722.7" stroke="#606060" stroke-width="1.5" fill="none"/>
<path d="M402.2 266.90H403.8M402.2 206.28H403.8M402.2 171.38H403.8M402.2 125.24H403.8M402.2 90.34H403.8M402.2 55.44H403.8M402.2 9.30H403.8M402.8 252.41H403.8M402.8 241.18H403.8M402.8 232.00H403.8M402.8 224.24H403.8M402.8 217.51H403.8M402.8 211.58H403.8M402.8 150.96H403.8M402.8 136.48H403.8M402.8 116.06H403.8M402.8 108.30H403.8M402.8 101.57H403.8M402.8 95.64H403.8M402.8 35.02H403.8M402.8 20.54H403.8" stroke="#333" stroke-width="0.8" fill="none"/>
<path d="M461.75 266.9v2.2M519.80 266.9v2.2M577.85 266.9v2.2M635.90 266.9v2.2M693.95 266.9v2.2M421.17 266.9v1.5M431.40 266.9v1.5M438.65 266.9v1.5M444.28 266.9v1.5M448.87 266.9v1.5M452.76 266.9v1.5M456.12 266.9v1.5M459.09 266.9v1.5M479.22 266.9v1.5M489.45 266.9v1.5M496.70 266.9v1.5M502.33 266.9v1.5M506.92 266.9v1.5M510.81 266.9v1.5M514.17 266.9v1.5M517.14 266.9v1.5M537.27 266.9v1.5M547.50 266.9v1.5M554.75 266.9v1.5M560.38 266.9v1.5M564.97 266.9v1.5M568.86 266.9v1.5M572.22 266.9v1.5M575.19 266.9v1.5M595.32 266.9v1.5M605.55 266.9v1.5M612.80 266.9v1.5M618.43 266.9v1.5M623.02 266.9v1.5M626.91 266.9v1.5M630.27 266.9v1.5M633.24 266.9v1.5M653.37 266.9v1.5M663.60 266.9v1.5M670.85 266.9v1.5M676.48 266.9v1.5M681.07 266.9v1.5M684.96 266.9v1.5M688.32 266.9v1.5M691.29 266.9v1.5M711.42 266.9v1.5M721.65 266.9v1.5" stroke="#666" stroke-width="0.8" fill="none"/>
<text x="34.0" y="14.9" text-anchor="end" font-size="15.5" fill="#000">50</text>
<text x="34.0" y="61.0" text-anchor="end" font-size="15.5" fill="#000">20</text>
<text x="34.0" y="95.9" text-anchor="end" font-size="15.5" fill="#000">10</text>
<text x="34.0" y="130.8" text-anchor="end" font-size="15.5" fill="#000">5</text>
<text x="34.0" y="211.9" text-anchor="end" font-size="15.5" fill="#000">1</text>
<text x="34.0" y="272.5" text-anchor="end" font-size="15.5" fill="#000">0.3</text>
<text x="399.7" y="14.9" text-anchor="end" font-size="15.5" fill="#000">50</text>
<text x="399.7" y="61.0" text-anchor="end" font-size="15.5" fill="#000">20</text>
<text x="399.7" y="95.9" text-anchor="end" font-size="15.5" fill="#000">10</text>
<text x="399.7" y="130.8" text-anchor="end" font-size="15.5" fill="#000">5</text>
<text x="399.7" y="211.9" text-anchor="end" font-size="15.5" fill="#000">1</text>
<text x="399.7" y="272.5" text-anchor="end" font-size="15.5" fill="#000">0.3</text>
<text x="59.2" y="281.7" text-anchor="middle" font-size="15.5" fill="#000">0.01</text>
<text x="132.9" y="281.7" text-anchor="middle" font-size="15.5" fill="#000">0.1</text>
<text x="206.6" y="281.7" text-anchor="middle" font-size="15.5" fill="#000">1</text>
<text x="280.3" y="281.7" text-anchor="middle" font-size="15.5" fill="#000">10</text>
<text x="354.0" y="281.7" text-anchor="middle" font-size="15.5" fill="#000">100</text>
<text x="461.4" y="281.7" text-anchor="middle" font-size="15.5" fill="#000">0.1</text>
<text x="519.5" y="281.7" text-anchor="middle" font-size="15.5" fill="#000">1</text>
<text x="577.5" y="281.7" text-anchor="middle" font-size="15.5" fill="#000">10</text>
<text x="635.6" y="281.7" text-anchor="middle" font-size="15.5" fill="#000">100</text>
<text x="693.6" y="281.7" text-anchor="middle" font-size="15.5" fill="#000">1000</text>
<text x="114.6" y="298.4" font-size="17" fill="#000">Semi-major Axis (AU)</text>
<g transform="translate(495.7 296.9)"><text x="0" y="0" font-size="17" fill="#000">Planet Mass (M</text><text x="117.2" y="3.5" font-family="'DejaVu Sans', sans-serif" font-size="13.5" fill="#000">⊕</text><text x="127.7" y="0" font-size="17" fill="#000">)</text></g>
<g transform="translate(13.4 204.5) rotate(-90)"><text x="0" y="0" font-size="16.5" fill="#000">Planet Radius (R</text><text x="123.8" y="3.5" font-family="'DejaVu Sans', sans-serif" font-size="13.5" fill="#000">⊕</text><text x="134.3" y="0" font-size="16.5" fill="#000">)</text></g>
<g transform="translate(378.9 204.5) rotate(-90)"><text x="0" y="0" font-size="16.5" fill="#000">Planet Radius (R</text><text x="123.8" y="3.5" font-family="'DejaVu Sans', sans-serif" font-size="13.5" fill="#000">⊕</text><text x="134.3" y="0" font-size="16.5" fill="#000">)</text></g>
<text x="273.8" y="75.6" font-size="11.15" font-weight="bold" fill="#b4651e">Jupiter</text>
<text x="288.6" y="101.6" font-size="11.15" font-weight="bold" fill="#dcb56e">Saturn</text>
<text x="294.8" y="130.8" font-size="11.15" font-weight="bold" fill="#48a4dc">Uranus</text>
<text x="307.8" y="159.1" font-size="11.15" font-weight="bold" fill="#486cf0">Neptune</text>
<text x="157.6" y="212.9" font-size="11.15" font-weight="bold" fill="#b4651e">Venus</text>
<text x="213.0" y="205.4" font-size="11.15" font-weight="bold" fill="#545e8c">Earth</text>
<text x="225.2" y="243.1" font-size="11.15" font-weight="bold" fill="#d48a4c">Mars</text>
<text x="129.8" y="263.8" font-size="11.15" font-weight="bold" fill="#848484">Mercury</text>
<text x="265.3" y="246.3" font-size="5.8" fill="#666">Ganymede</text>
<text x="285.3" y="253.4" font-size="5.8" fill="#2a9a80">Titan</text>
<text x="266.7" y="260.1" font-size="5.8" fill="#555">Callisto</text>
<text x="254.6" y="263.2" font-size="5.8" fill="#c8a040">Io</text>
<text x="208.3" y="263.5" font-size="5.8" fill="#666">Luna</text>
<text x="486.4" y="145.9" font-size="11.2" font-weight="bold" fill="#1a1af0" transform="rotate(-21.4 486.4 145.9)">Cold Hydrogen</text>
<text x="624.6" y="166.6" font-size="11.5" font-weight="bold" fill="#f01818" transform="rotate(-13.5 624.6 166.6)">Earth-like Rocky</text>
<text x="621.0" y="181.0" font-size="11.5" font-weight="bold" fill="#f5a21a" transform="rotate(-13.8 621.0 181.0)">pure-Fe</text>
</svg>
</body></html>
